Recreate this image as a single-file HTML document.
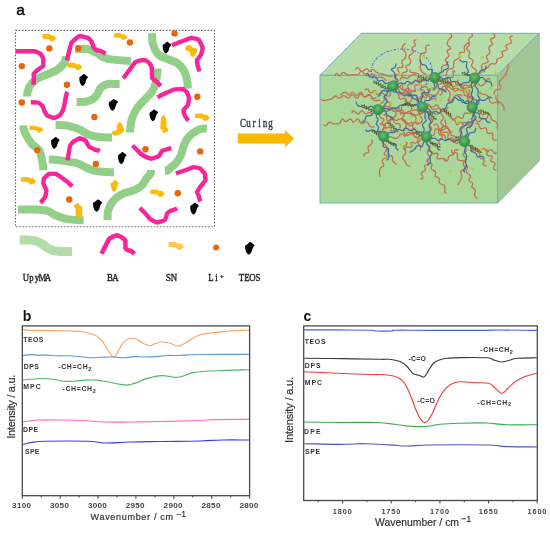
<!DOCTYPE html>
<html><head><meta charset="utf-8"><title>Figure</title><style>
html,body{margin:0;padding:0;background:#fff;}
svg{display:block;}
text{font-family:"Liberation Sans",sans-serif;}
.lab{font-size:15.5px;fill:#111;stroke:#111;stroke-width:0.55px;}
.labb{font-size:14px;font-weight:bold;fill:#111;}
.cur{font-family:"Liberation Serif",serif;font-size:11.5px;fill:#354055;stroke:#354055;stroke-width:0.45px;}
.leg{font-family:"Liberation Serif",serif;font-size:11.3px;fill:#222;stroke:#222;stroke-width:0.4px;}
.pl{font-size:6.9px;font-weight:bold;fill:#333;}
.tk{font-size:8.1px;font-weight:bold;fill:#444;letter-spacing:0.3px;}
.tkc{font-size:7.3px;font-weight:bold;fill:#444;letter-spacing:0.9px;}
.ax{font-size:9px;fill:#333;stroke:#333;stroke-width:0.2px;}
.ax2{font-size:11px;fill:#333;stroke:#333;stroke-width:0.2px;}
.yl{font-size:11px;fill:#333;stroke:#333;stroke-width:0.2px;}
</style></head>
<body><svg width="550" height="533" viewBox="0 0 550 533">
<rect width="550" height="533" fill="#fff"/>
<g id="pa">
<rect x="15.5" y="30.4" width="199" height="196.3" fill="none" stroke="#6a6a6a" stroke-width="1.1" stroke-dasharray="1.6 1.6"/>
<path d="M65.6 56.3 C65.6 56.8 65.9 58.1 65.6 59.3 C65.3 60.5 65.2 61.7 63.8 63.5 C62.4 65.3 59.9 68.2 57 70 C54.1 71.8 50 73 46.5 74.6 C43 76.2 38.8 77.5 36 79.4 C33.2 81.3 31.2 83.7 29.8 86 C28.4 88.3 27.7 91.8 27.3 93.5 C26.9 95.2 27.3 96 27.3 96.5" fill="none" stroke="#92cf88" stroke-width="8" stroke-linecap="butt" stroke-linejoin="round"/>
<path d="M75.2 49 C75.7 49 76.1 49 78.2 49 C80.3 49 84.8 48.5 87.9 49.2 C91 49.9 94.4 51.6 97 53 C99.6 54.4 101 56.4 103.6 57.5 C106.2 58.6 108.8 59.1 112.8 59.6 C116.8 60.1 124.8 60.6 127.8 60.8 C130.8 61 130.3 60.8 130.8 60.8" fill="none" stroke="#92cf88" stroke-width="8" stroke-linecap="butt" stroke-linejoin="round"/>
<path d="M119.6 84 C119.1 84 118.5 84 116.6 84 C114.7 84 110.6 83.4 108 84 C105.4 84.6 102.8 85.8 101 87.5 C99.2 89.2 98.8 92.1 97.5 94 C96.2 95.9 94.9 97.7 93 99 C91.1 100.3 88.2 101.1 86 101.6 C83.8 102.1 81.2 101.9 79.6 101.9 C78 102 77.1 101.9 76.6 101.9" fill="none" stroke="#92cf88" stroke-width="8" stroke-linecap="butt" stroke-linejoin="round"/>
<path d="M152.2 33.2 C152.2 33.7 152.1 34.4 152.2 36.2 C152.3 38 151.9 40.8 152.9 43.8 C153.9 46.8 155.5 51.7 158.1 54.3 C160.7 56.9 165.3 58 168.6 59.5 C171.9 61 175.2 61.5 177.8 63.5 C180.4 65.5 182.9 68.5 184.4 71.3 C185.9 74.1 186.4 78.1 187 80.5 C187.6 82.9 187.6 84.2 187.7 85.6 C187.8 86.9 187.7 88.1 187.7 88.6" fill="none" stroke="#92cf88" stroke-width="8" stroke-linecap="butt" stroke-linejoin="round"/>
<path d="M157.5 68.5 C157.5 69 157.7 69.8 157.5 71.5 C157.3 73.2 157.1 76.2 156.5 79 C155.9 81.8 155.1 85.4 154 88 C152.9 90.6 151.6 92.2 149.7 94.5 C147.8 96.8 144.7 99.4 142.5 101.8 C140.3 104.2 138.4 106.1 136.6 109 C134.8 111.9 132.9 115.6 131.8 119 C130.7 122.4 130.5 127.3 130.2 129.6 C129.9 131.9 130.2 132.1 130.2 132.6" fill="none" stroke="#92cf88" stroke-width="8" stroke-linecap="butt" stroke-linejoin="round"/>
<path d="M55.5 125 C56 125 56.1 124.8 58.5 125 C60.9 125.2 66.4 125.5 70 126.3 C73.6 127.1 77.3 128.4 80 129.6 C82.7 130.8 83.8 132.2 86 133.3 C88.2 134.4 90 135.3 93 136 C96 136.7 101.3 136.9 104 137.2 C106.7 137.5 107.7 137.5 109 137.6 C110.3 137.7 111.5 137.6 112 137.6" fill="none" stroke="#92cf88" stroke-width="8" stroke-linecap="butt" stroke-linejoin="round"/>
<path d="M23.5 125.6 C23.5 126.1 22.9 126.8 23.5 128.6 C24.1 130.4 25.4 133.7 26.8 136.3 C28.2 138.9 30 141.8 32.1 144.2 C34.2 146.6 37.8 147.9 39.5 151 C41.2 154.1 42 160.3 42.6 163 C43.2 165.7 43.1 166.1 43.2 167.3 C43.3 168.5 43.2 169.8 43.2 170.3" fill="none" stroke="#92cf88" stroke-width="8" stroke-linecap="butt" stroke-linejoin="round"/>
<path d="M48.8 159.6 C49.3 159.6 49.1 159.4 51.8 159.6 C54.5 159.8 60.6 160.3 65 161 C69.4 161.7 74.7 162.5 78 163.5 C81.3 164.5 82.5 165.9 85 167 C87.5 168.1 90 169.5 93 170.3 C96 171.1 100 171.5 103 171.8 C106 172.1 109.2 172.1 111 172.2 C112.8 172.3 113.5 172.2 114 172.2" fill="none" stroke="#92cf88" stroke-width="8" stroke-linecap="butt" stroke-linejoin="round"/>
<path d="M206.9 128.5 C206.4 128.5 205.5 128.2 203.9 128.5 C202.3 128.8 200 129 197.5 130.3 C195 131.6 191.2 134.1 189 136.5 C186.8 138.9 185.3 141.9 184 145 C182.7 148.1 182.3 152 181 155 C179.7 158 177.8 160.8 176 163 C174.2 165.2 171.4 166.8 170 168 C168.6 169.2 168.7 170.1 167.8 170.5 C166.9 170.9 165.3 170.5 164.8 170.5" fill="none" stroke="#92cf88" stroke-width="8" stroke-linecap="butt" stroke-linejoin="round"/>
<path d="M18 209.6 C18.5 209.6 18.2 209.6 21 209.6 C23.8 209.6 30.2 209.3 34.7 209.5 C39.2 209.7 44.5 210.1 47.8 211 C51.1 211.9 51.1 213.3 54.4 214.7 C57.7 216.1 63.1 218.3 67.5 219.2 C71.9 220.1 77.9 220 80.6 220.2 C83.3 220.4 83.1 220.2 83.6 220.2" fill="none" stroke="#92cf88" stroke-width="8" stroke-linecap="butt" stroke-linejoin="round"/>
<path d="M107.6 219.9 C107.6 219.4 107.5 218.5 107.6 216.9 C107.7 215.3 107.3 213.1 108.2 210.5 C109.1 207.9 110.5 204 112.8 201.3 C115.1 198.6 118.7 195.8 122 194.1 C125.3 192.3 129.2 192.2 132.5 190.8 C135.8 189.4 139.3 187.8 141.7 185.6 C144.1 183.4 145.4 179.8 147 177.7 C148.6 175.6 150.3 174.3 151 173 C151.7 171.7 151 170.5 151 170" fill="none" stroke="#92cf88" stroke-width="8" stroke-linecap="butt" stroke-linejoin="round"/>
<path d="M42.6 34.3 C42.8 33.8 42.8 33.9 43.7 33.9 C44.5 33.9 48.3 33.9 49.2 34.1 C50.2 34.3 50.5 35.2 51 35.4 C51.5 35.5 52.4 34.8 53.1 35.2 C53.8 35.5 55.6 37.5 55.9 38 C56.2 38.6 55.6 39.2 55.2 39.6 C54.8 40.1 53.3 41.2 52.7 41.4 C52.1 41.6 51.1 41.7 50.6 41.4 C50.1 41.1 49.8 39.7 48.9 39.3 C47.9 39 44.1 38.9 43.3 38.7 C42.4 38.5 42.5 38.4 42.4 37.8 C42.3 37.3 42.4 34.8 42.6 34.3Z" fill="#fcbb08"/>
<path d="M67.7 63.2 C67.9 62.7 67.9 62.8 68.8 62.8 C69.8 62.8 73.8 62.8 74.9 63 C75.9 63.2 76.2 64.1 76.7 64.2 C77.3 64.4 78.3 63.7 79 64 C79.7 64.4 81.7 66.2 82 66.8 C82.3 67.3 81.7 67.9 81.3 68.3 C80.8 68.7 79.2 69.8 78.6 70 C77.9 70.2 76.9 70.3 76.3 70 C75.8 69.7 75.5 68.4 74.4 68 C73.4 67.7 69.4 67.6 68.4 67.4 C67.5 67.3 67.6 67.2 67.5 66.6 C67.4 66 67.5 63.7 67.7 63.2Z" fill="#fcbb08"/>
<path d="M114.3 33.6 C114.5 33.2 114.5 33.3 115.3 33.3 C116.2 33.3 119.8 33.3 120.8 33.5 C121.7 33.6 122 34.5 122.5 34.6 C123 34.7 123.9 34.1 124.6 34.4 C125.2 34.7 127 36.4 127.3 36.9 C127.6 37.4 127.1 37.9 126.6 38.3 C126.2 38.6 124.8 39.6 124.2 39.8 C123.6 40 122.6 40 122.1 39.8 C121.6 39.6 121.4 38.3 120.4 38 C119.5 37.7 115.8 37.7 114.9 37.5 C114.1 37.3 114.2 37.2 114.1 36.7 C114 36.2 114.1 34.1 114.3 33.6Z" fill="#fcbb08"/>
<path d="M29.6 126.1 C29.8 125.7 29.8 125.8 30.7 125.8 C31.6 125.8 35.4 125.8 36.4 126 C37.4 126.1 37.6 127 38.2 127.1 C38.7 127.2 39.7 126.6 40.3 126.9 C41 127.2 42.9 128.9 43.2 129.4 C43.5 130 42.9 130.4 42.5 130.8 C42.1 131.2 40.6 132.2 39.9 132.4 C39.3 132.6 38.3 132.6 37.8 132.4 C37.3 132.2 37 130.9 36 130.6 C35 130.3 31.2 130.2 30.3 130.1 C29.4 129.9 29.5 129.8 29.4 129.3 C29.3 128.8 29.4 126.6 29.6 126.1Z" fill="#fcbb08"/>
<path d="M195.1 113.8 C195.3 113.3 195.3 113.4 196.2 113.4 C197.2 113.4 201.2 113.4 202.3 113.6 C203.3 113.8 203.6 114.7 204.1 114.8 C204.7 115 205.7 114.3 206.4 114.6 C207.1 115 209.1 116.8 209.4 117.4 C209.7 117.9 209.1 118.5 208.7 118.9 C208.2 119.3 206.6 120.4 206 120.6 C205.3 120.8 204.3 120.9 203.7 120.6 C203.2 120.3 202.9 119 201.8 118.6 C200.8 118.3 196.8 118.2 195.8 118 C194.9 117.9 195 117.8 194.9 117.2 C194.8 116.6 194.9 114.3 195.1 113.8Z" fill="#fcbb08"/>
<path d="M21.1 177.4 C21.3 176.9 21.3 177 22.3 177 C23.3 177 27.5 177 28.6 177.2 C29.7 177.4 29.9 178.3 30.5 178.4 C31.1 178.6 32.1 177.9 32.9 178.2 C33.6 178.6 35.7 180.5 36 181 C36.3 181.6 35.7 182.1 35.2 182.6 C34.8 183 33.1 184.1 32.4 184.3 C31.8 184.5 30.6 184.6 30.1 184.3 C29.5 184 29.2 182.6 28.1 182.3 C27 181.9 22.8 181.9 21.9 181.7 C20.9 181.5 21 181.4 20.9 180.8 C20.8 180.3 20.9 177.9 21.1 177.4Z" fill="#fcbb08"/>
<path d="M150.5 189.9 C150.7 189.4 150.7 189.5 151.6 189.5 C152.6 189.5 156.6 189.5 157.6 189.7 C158.6 189.9 158.9 190.8 159.5 190.9 C160 191.1 161 190.4 161.7 190.7 C162.4 191.1 164.4 192.9 164.7 193.5 C165 194 164.4 194.6 164 195 C163.5 195.4 162 196.5 161.3 196.7 C160.6 196.9 159.6 197 159 196.7 C158.5 196.4 158.2 195.1 157.2 194.7 C156.1 194.4 152.1 194.3 151.2 194.1 C150.3 194 150.4 193.9 150.3 193.3 C150.2 192.7 150.3 190.4 150.5 189.9Z" fill="#fcbb08"/>
<path d="M111.6 132.3 C111.8 131.9 113 131.1 113.6 130.8 C114.2 130.5 115.8 130.7 116.3 130 C116.8 129.3 116.6 126.6 117 125.5 C117.4 124.4 118.7 122.4 119.3 122.1 C119.9 121.8 121 122.9 121.5 123.6 C122 124.3 123.1 126.4 123.4 127.4 C123.7 128.4 124.2 130.4 124.1 131.1 C124 131.8 122.9 132.5 122.3 133 C121.7 133.5 120 134.2 119.3 134.5 C118.6 134.8 118.1 135.5 117.4 135.6 C116.7 135.7 114.7 135.8 114 135.6 C113.3 135.4 112.4 134.2 112.1 133.8 C111.8 133.4 111.4 132.7 111.6 132.3Z" fill="#fcbb08"/>
<path d="M163.5 114.9 C164.1 114.9 165.4 117.1 165.8 118 C166.2 118.9 166.4 120.4 166.5 121.7 C166.6 123 166.5 126.4 166.7 127.4 C166.9 128.4 168 128.6 168.1 129.2 C168.2 129.8 168.3 131.1 167.7 131.6 C167.1 132.1 164.6 132.9 163.9 133 C163.2 133.1 162.8 132.6 162.5 132.1 C162.2 131.6 162.3 129.6 162 129.2 C161.7 128.8 160.4 129.5 160.2 128.8 C160 128.1 160.5 125.5 160.6 124.1 C160.7 122.7 160.7 119.2 161.1 118 C161.5 116.8 162.9 114.9 163.5 114.9Z" fill="#fcbb08"/>
<path d="M185.2 48.2 C185.4 47.5 186.5 45.6 187.3 45.2 C188.1 44.8 190.1 45.2 190.9 45.5 C191.7 45.8 192.4 47.2 193.2 47.7 C194 48.2 196.3 48.5 196.8 48.9 C197.3 49.3 197.5 50.1 197.3 50.9 C197.1 51.7 195.6 54.2 195 55 C194.4 55.8 193.3 56.9 192.7 57 C192.1 57.1 190.9 56.2 190.5 55.5 C190.1 54.8 190.1 52.5 189.5 51.8 C188.9 51.1 186.5 51 185.9 50.5 C185.3 50 185 48.9 185.2 48.2Z" fill="#fcbb08"/>
<path d="M110.3 183.6 C110.5 183 112 182.9 112.5 182.5 C113 182.1 113.9 180.6 114.4 180.3 C114.9 180 115.8 180.3 116.3 180.6 C116.8 180.9 117.4 182.1 117.8 182.5 C118.2 182.9 119.1 183.1 119.1 183.4 C119.1 183.7 118.1 184.3 117.8 184.8 C117.5 185.3 117.3 186.6 117 187.4 C116.7 188.2 116.3 190.2 115.9 190.8 C115.5 191.4 114.5 192 114 191.9 C113.5 191.8 112.5 190.7 112.1 190 C111.7 189.3 111.2 187.9 111 187 C110.8 186.1 110.1 184.2 110.3 183.6Z" fill="#fcbb08"/>
<path d="M73.7 205.7 C74 205.2 75.7 203.7 76.3 203.4 C76.9 203.1 78 202.9 78.5 203.2 C79 203.5 79.4 204.9 79.9 205.4 C80.4 205.9 81.6 205.3 81.9 206.8 C82.2 208.3 82.6 215.1 81.9 216.4 C81.2 217.7 77.2 217.8 76.3 216.7 C75.4 215.6 75.7 209.8 75.4 208.5 C75.1 207.2 74.2 207.5 74 207.1 C73.8 206.7 73.4 206.2 73.7 205.7Z" fill="#fcbb08"/>
<path d="M79.4 77.6 C79.6 77 81.3 76.2 81.7 75.8 C82.1 75.4 83.3 74.1 83.7 74 C84.1 73.9 85.1 74.6 85.5 74.9 C85.9 75.2 87.9 76.8 88 77.2 C88.1 77.6 87.1 78.2 86.9 78.5 C86.7 78.8 86.2 79.9 86 80.4 C85.8 80.9 85.4 82.9 85.1 83.5 C84.8 84.1 83.2 85.9 82.8 86 C82.4 86.1 81.1 84.9 80.8 84.4 C80.5 83.9 79.7 82 79.6 81.3 C79.5 80.6 79.2 78.1 79.4 77.6Z" fill="#000"/>
<path d="M162.7 45.3 C162.9 44.8 164.6 43.9 165 43.6 C165.4 43.2 166.6 41.9 167 41.8 C167.4 41.7 168.4 42.4 168.8 42.7 C169.2 43 171.2 44.6 171.3 44.9 C171.4 45.3 170.4 45.9 170.2 46.2 C170 46.5 169.5 47.6 169.3 48.1 C169.1 48.6 168.7 50.6 168.4 51.1 C168.1 51.7 166.5 53.5 166.1 53.6 C165.7 53.7 164.4 52.5 164.1 52 C163.8 51.6 163 49.6 162.9 49 C162.8 48.3 162.5 45.9 162.7 45.3Z" fill="#000"/>
<path d="M51.1 140.5 C51.3 140 53 139.1 53.4 138.8 C53.8 138.4 55 137.1 55.4 137 C55.8 136.9 56.8 137.6 57.2 137.9 C57.6 138.2 59.6 139.8 59.7 140.1 C59.8 140.5 58.8 141.1 58.6 141.4 C58.4 141.7 57.9 142.8 57.7 143.3 C57.5 143.8 57.1 145.8 56.8 146.3 C56.5 146.9 54.9 148.7 54.5 148.8 C54.1 148.9 52.8 147.7 52.5 147.2 C52.2 146.8 51.4 144.8 51.3 144.2 C51.2 143.5 50.9 141.1 51.1 140.5Z" fill="#000"/>
<path d="M108.9 102.4 C109.1 101.9 110.9 101 111.4 100.7 C111.8 100.3 113.1 99 113.5 98.9 C113.9 98.8 115 99.5 115.4 99.8 C115.9 100.1 118 101.7 118.1 102 C118.2 102.4 117.1 103 116.9 103.3 C116.7 103.6 116.2 104.7 116 105.2 C115.8 105.7 115.3 107.7 115 108.2 C114.7 108.8 113 110.6 112.5 110.7 C112.1 110.8 110.7 109.6 110.4 109.1 C110.1 108.7 109.3 106.7 109.1 106.1 C109 105.4 108.7 103 108.9 102.4Z" fill="#000"/>
<path d="M118 155.6 C118.2 155 119.9 154.2 120.3 153.8 C120.7 153.4 121.9 152.1 122.3 152 C122.7 151.9 123.7 152.6 124.1 152.9 C124.5 153.2 126.5 154.8 126.6 155.2 C126.7 155.6 125.7 156.2 125.5 156.5 C125.3 156.8 124.8 157.9 124.6 158.4 C124.4 158.9 124 160.9 123.7 161.5 C123.4 162.1 121.8 163.9 121.4 164 C121 164.1 119.7 162.9 119.4 162.4 C119.1 161.9 118.3 160 118.2 159.3 C118.1 158.6 117.8 156.2 118 155.6Z" fill="#000"/>
<path d="M149.6 112.9 C149.8 112.4 151.4 111.5 151.9 111.2 C152.3 110.8 153.5 109.5 153.8 109.4 C154.2 109.3 155.2 110 155.6 110.3 C156.1 110.6 158 112.2 158.1 112.5 C158.2 112.9 157.2 113.5 157 113.8 C156.8 114.1 156.3 115.2 156.1 115.7 C155.9 116.2 155.5 118.2 155.2 118.7 C154.9 119.3 153.4 121.1 153 121.2 C152.5 121.3 151.3 120.1 151 119.6 C150.7 119.2 149.9 117.2 149.8 116.6 C149.7 115.9 149.4 113.5 149.6 112.9Z" fill="#000"/>
<path d="M93.1 203.1 C93.3 202.6 95.1 201.6 95.6 201.3 C96 200.9 97.3 199.5 97.7 199.4 C98.1 199.3 99.2 200 99.6 200.3 C100.1 200.7 102.2 202.3 102.3 202.7 C102.4 203.1 101.3 203.7 101.1 204.1 C100.9 204.4 100.4 205.5 100.2 206 C100 206.5 99.5 208.6 99.2 209.2 C98.9 209.8 97.2 211.7 96.7 211.8 C96.3 211.9 94.9 210.6 94.6 210.1 C94.3 209.7 93.5 207.6 93.3 206.9 C93.2 206.2 92.9 203.7 93.1 203.1Z" fill="#000"/>
<path d="M190.3 206.2 C190.5 205.7 192.1 204.8 192.6 204.5 C193 204.1 194.2 202.8 194.6 202.7 C194.9 202.6 195.9 203.3 196.3 203.6 C196.8 203.9 198.7 205.5 198.8 205.8 C198.9 206.2 197.9 206.8 197.7 207.1 C197.5 207.4 197 208.5 196.8 209 C196.6 209.5 196.2 211.5 195.9 212 C195.6 212.6 194.1 214.4 193.7 214.5 C193.2 214.6 192 213.4 191.7 212.9 C191.4 212.5 190.6 210.5 190.5 209.9 C190.4 209.2 190.1 206.8 190.3 206.2Z" fill="#000"/>
<path d="M15.5 51.3 C16.3 51.3 33.7 51.2 34.7 51.3 C35.7 51.4 40.2 53.7 40.5 54 C40.8 54.3 43.1 58 43.2 58.5 C43.3 59 43.4 65.5 43.2 66 C43 66.5 37.9 69.7 37.5 70 C37.1 70.3 33.7 73.7 33.6 74 C33.5 74.3 34 77.6 34 78 C34 78.4 33.5 84.5 33.5 84.8" fill="none" stroke="#f7259a" stroke-width="4.4" stroke-linecap="butt" stroke-linejoin="round"/>
<path d="M66.9 60.5 C67.1 59.8 70.9 43.9 71.3 43 C71.7 42.1 76.2 38.3 76.5 38 C76.8 37.7 79.5 36 80 36 C80.5 36 87.4 37.7 87.9 37.9 C88.4 38.1 91.3 40.9 91.5 41.3 C91.7 41.7 93.4 47.1 93.6 47.5 C93.8 47.9 96.8 50.2 97.1 50.3 C97.4 50.4 100.7 50.9 101 51 C101.3 51.1 105.4 53.7 105.6 53.8" fill="none" stroke="#f7259a" stroke-width="4.4" stroke-linecap="butt" stroke-linejoin="round"/>
<path d="M67.2 91.8 C67.1 92 65.6 97.6 65.5 98 C65.4 98.4 65 101.7 64.9 102.2 C64.8 102.7 63.2 109.6 63 110.1 C62.8 110.6 60 115 59.7 115.3 C59.4 115.6 54.9 118 54.4 118 C53.9 118 48.2 116.3 47.8 116 C47.4 115.7 44.8 111.8 44.6 111.4 C44.4 111 42.8 106.4 42.6 106.1 C42.4 105.8 39.1 103 38.6 102.8 C38.1 102.6 31.1 102.2 30.8 102.2" fill="none" stroke="#f7259a" stroke-width="4.4" stroke-linecap="butt" stroke-linejoin="round"/>
<path d="M123.3 78.3 C123.8 77.7 134.5 63 135.2 62.3 C135.9 61.6 141.3 60.3 141.7 60.2 C142.1 60.1 145.7 60.3 146 60.5 C146.3 60.7 149.8 63.7 150 64 C150.2 64.3 151.7 67.4 151.8 68 C151.9 68.6 152 77.4 152.2 78 C152.4 78.6 156.5 81.5 156.8 81.8 C157.1 82.1 160.6 85.8 160.8 86" fill="none" stroke="#f7259a" stroke-width="4.4" stroke-linecap="butt" stroke-linejoin="round"/>
<path d="M171.9 45.3 C172.7 45 189.9 38.1 191 37.9 C192.1 37.7 198.3 39.4 198.8 39.8 C199.3 40.2 202.5 47.1 202.6 47.7 C202.7 48.3 201.5 53.8 201.3 54.3 C201.1 54.8 197.1 59.8 196.9 60.2 C196.7 60.6 197.4 64.3 197.5 64.8 C197.6 65.3 199.4 71.2 199.5 71.5" fill="none" stroke="#f7259a" stroke-width="4.4" stroke-linecap="butt" stroke-linejoin="round"/>
<path d="M157.5 97.3 C157.8 97.1 165.3 93.3 166 93 C166.7 92.7 173.3 89.7 174 89.5 C174.7 89.3 182.5 88.9 183 89 C183.5 89.1 186.8 92.1 187 92.5 C187.2 92.9 189 97.5 189 98 C189 98.5 188.2 104.5 188 105 C187.8 105.5 183.6 109.6 183.5 110 C183.4 110.4 184.3 114.6 184.5 115 C184.7 115.4 188.3 120.6 188.5 120.8" fill="none" stroke="#f7259a" stroke-width="4.4" stroke-linecap="butt" stroke-linejoin="round"/>
<path d="M67.5 160.3 C67.6 159.7 70 146.2 70.2 145.5 C70.4 144.8 73 141.9 73.4 141.6 C73.8 141.3 78.9 138.4 79.4 138.3 C79.9 138.2 84.9 140 85.3 140.3 C85.7 140.6 88.8 146.4 89.2 146.8 C89.6 147.2 94 149.3 94.4 149.5 C94.8 149.7 99.7 150.9 99.9 151" fill="none" stroke="#f7259a" stroke-width="4.4" stroke-linecap="butt" stroke-linejoin="round"/>
<path d="M132.5 145.5 C132.8 145.8 139.9 152.9 140.4 153.4 C140.9 153.9 145.6 156.8 146 157 C146.4 157.2 151.1 158.7 151.6 158.7 C152.1 158.7 158.6 156.3 159 156 C159.4 155.7 161.5 151.3 162 151 C162.5 150.7 170.9 148.3 171.3 148.2" fill="none" stroke="#f7259a" stroke-width="4.4" stroke-linecap="butt" stroke-linejoin="round"/>
<path d="M40.6 202.9 C40.8 202.7 45 197.2 45.2 196.7 C45.4 196.2 46.6 191.3 46.5 190.8 C46.4 190.3 43.5 184.1 43.4 183.6 C43.3 183.1 43.7 178.8 43.9 178.4 C44.1 178 48.6 174 49.1 173.8 C49.6 173.6 55.1 173.6 55.7 173.8 C56.3 174 62.9 178.5 63.6 179 C64.3 179.5 72 186.1 72.3 186.4" fill="none" stroke="#f7259a" stroke-width="4.4" stroke-linecap="butt" stroke-linejoin="round"/>
<path d="M139.8 207.9 C140 208.1 144.6 212.6 145 213 C145.4 213.4 149.5 218.6 150 219 C150.5 219.4 156.4 222.5 157 222.5 C157.6 222.5 164.6 220.4 165 220 C165.4 219.6 166.7 213.9 167 213.5 C167.3 213.1 171.1 210.7 171.5 210.5 C171.9 210.3 177 208.6 177.2 208.5" fill="none" stroke="#f7259a" stroke-width="4.4" stroke-linecap="butt" stroke-linejoin="round"/>
<path d="M175.9 173.3 C176.2 173.2 183.7 170.7 184.4 170.5 C185.1 170.3 193 167.3 193.6 167.2 C194.2 167.1 199.8 168.2 200.2 168.5 C200.6 168.8 204.6 173.3 204.8 173.8 C205 174.3 205.6 179.8 205.4 180.3 C205.2 180.8 200.5 186.4 200.2 186.9 C199.9 187.4 197 191.7 196.9 192.1 C196.8 192.5 198.7 195.7 198.8 196.1 C198.9 196.5 200.1 201.3 200.2 201.5" fill="none" stroke="#f7259a" stroke-width="4.4" stroke-linecap="butt" stroke-linejoin="round"/>
<circle cx="49.4" cy="48.4" r="3.2" fill="#e8650c"/>
<circle cx="21.8" cy="66.1" r="3.2" fill="#e8650c"/>
<circle cx="66.9" cy="84.7" r="3.2" fill="#e8650c"/>
<circle cx="78.4" cy="48.4" r="3.2" fill="#e8650c"/>
<circle cx="129.9" cy="42.4" r="3.2" fill="#e8650c"/>
<circle cx="174.5" cy="33.4" r="3.2" fill="#e8650c"/>
<circle cx="197.3" cy="96.8" r="3.2" fill="#e8650c"/>
<circle cx="21.8" cy="102.5" r="3.2" fill="#e8650c"/>
<circle cx="37.3" cy="150.1" r="3.2" fill="#e8650c"/>
<circle cx="94.4" cy="117" r="3.2" fill="#e8650c"/>
<circle cx="145.5" cy="149.3" r="3.2" fill="#e8650c"/>
<circle cx="95.8" cy="163.9" r="3.2" fill="#e8650c"/>
<circle cx="200.2" cy="151.4" r="3.2" fill="#e8650c"/>
<circle cx="69.2" cy="199.5" r="3.2" fill="#e8650c"/>
<circle cx="177.8" cy="193.2" r="3.2" fill="#e8650c"/>
<path d="M19.7 240 C20.8 240 23.8 239.9 26 240 C28.2 240.1 31 240.1 33 240.4 C35 240.7 36.3 241.1 38 241.8 C39.7 242.5 41.3 243.5 43 244.6 C44.7 245.7 46.3 247.3 48 248.3 C49.7 249.3 51 250.1 53 250.6 C55 251.1 57.5 251.2 60 251.4 C62.5 251.6 66 251.6 68 251.6 C70 251.6 71.3 251.6 72 251.6" fill="none" stroke="#b4dcab" stroke-width="9" stroke-linecap="butt"/>
<path d="M101.5 253.8 C102 252.8 108.6 239.9 109.3 238.8 C110 237.7 111.7 237.2 112.2 237 C112.7 236.8 116.1 235.4 116.7 235.4 C117.3 235.4 120.6 236.7 121.2 237 C121.8 237.3 125 239.8 125.3 240.5 C125.6 241.2 125.3 247.3 125.5 248 C125.7 248.7 127.6 250.1 128 250.3 C128.4 250.5 130.6 250.5 131 250.7 C131.4 250.9 134.3 253.8 134.5 254" fill="none" stroke="#f7259a" stroke-width="4.6" stroke-linecap="butt" stroke-linejoin="round"/>
<path d="M168.6 242.4 C168.8 241.9 168.8 242 169.8 242 C170.8 242 175.1 242 176.2 242.2 C177.3 242.4 177.5 243.4 178.1 243.5 C178.7 243.7 179.8 243 180.5 243.3 C181.3 243.7 183.4 245.7 183.7 246.3 C184 246.9 183.4 247.5 182.9 248 C182.5 248.4 180.8 249.6 180.1 249.8 C179.4 250 178.3 250.1 177.7 249.8 C177.1 249.5 176.8 248 175.7 247.6 C174.6 247.3 170.4 247.2 169.4 247 C168.4 246.8 168.5 246.7 168.4 246.1 C168.3 245.5 168.4 243 168.6 242.4Z" fill="#fcc94e"/>
<circle cx="216.1" cy="247.5" r="2.9" fill="#e8650c"/>
<path d="M245.2 245.8 C245.4 245.2 247.3 244.3 247.7 243.9 C248.2 243.5 249.5 242.1 249.9 242 C250.4 241.9 251.5 242.6 251.9 242.9 C252.4 243.3 254.5 245 254.7 245.4 C254.9 245.7 253.7 246.4 253.5 246.7 C253.3 247.1 252.7 248.2 252.5 248.7 C252.3 249.2 251.8 251.4 251.5 252 C251.1 252.6 249.4 254.5 249 254.6 C248.5 254.7 247.1 253.4 246.7 252.9 C246.4 252.4 245.6 250.4 245.4 249.7 C245.3 249 245 246.4 245.2 245.8Z" fill="#000"/>
</g>
<path d="M237.7 133.6 H285 V130 L294.2 138.6 L285 147.6 V143.6 H237.7Z" fill="#fbb800"/>
<g id="cube">
<path d="M320 75.3 L361.3 33.3 L539.2 33.3 L497.6 75.3Z" fill="#b6dcaa" stroke="#7aabb8" stroke-width="1"/>
<path d="M497.6 75.3 L539.2 33.3 L539.2 161 L497.6 203Z" fill="#a2c595" stroke="#7aabb8" stroke-width="1"/>
<rect x="320" y="75.3" width="177.6" height="127.7" fill="#aad89c" stroke="#7aabb8" stroke-width="1"/>
</g>
<defs><radialGradient id="ng" cx="0.45" cy="0.4" r="0.65"><stop offset="0" stop-color="#6cbb72"/><stop offset="0.6" stop-color="#3d9a4e"/><stop offset="1" stop-color="#2f8442" stop-opacity="0.85"/></radialGradient><clipPath id="cc"><path d="M320 75.3 L361.3 33.3 L539.2 33.3 L539.2 161 L497.6 203 L320 203Z"/></clipPath><filter id="sb" x="-5%" y="-5%" width="110%" height="110%"><feGaussianBlur stdDeviation="0.35"/></filter></defs><g clip-path="url(#cc)"><g filter="url(#sb)"><ellipse cx="401.8" cy="71" rx="30.5" ry="22" fill="none" stroke="#4c6fe6" stroke-width="1.1" stroke-dasharray="2.6 1.6 1 1.6"/><g fill="none" stroke="#c2714f" stroke-width="1.3" stroke-linejoin="round" stroke-linecap="round"><path d="M405 43.5 C404.5 44.1 403.6 44.4 403 45.8 C402.4 47.3 402 47 402.7 49 C403.4 51 405.1 50.8 405.7 53.2 C406.4 55.7 406.1 56 405.1 58.1 C404 60.3 402.4 59 401.8 61.3 C401.2 63.7 403.9 65 402.8 66.9 C401.8 68.7 398.8 66.2 397.8 68.1 C396.9 70.1 400.2 72.2 399.3 74.2 C398.4 76.1 395.3 73.6 394.4 75.4 C393.6 77.2 396.3 79.5 396.2 81 C396.1 82.5 394.6 81 394 81"/><path d="M429.3 45 C428.4 45.4 426.9 44.6 426 46.5 C425 48.4 427.1 50 425.8 52.1 C424.6 54.1 422.7 52.4 421.1 54.2 C419.6 56 420.1 56.3 420 58.9 C419.9 61.5 420.8 61.6 420.8 64 C420.8 66.5 419.6 65.8 420.1 68 C420.6 70.3 420.9 70.9 422.5 72.5 C424.1 74.1 425.1 73.6 426 74"/><path d="M450.8 33.8 C451 34.6 452.2 35.1 451.6 36.7 C451 38.3 449.8 37.9 448.6 39.9 C447.5 42 446.9 42.2 447.4 44.4 C448 46.6 450.7 46.5 450.6 48.2 C450.5 50 447.6 48.8 447.1 50.9 C446.6 52.9 449.2 53.6 448.8 55.9 C448.4 58.2 446 57.4 445.5 59.6 C445.1 61.8 448.1 62.4 447.2 64.2 C446.3 66 443.7 64.2 442.2 66.3 C440.7 68.3 442.1 70.2 441.5 71.7 C441 73.3 440.4 71.9 440 72"/><path d="M469.5 42.8 C468.9 43 468.5 42.3 467.1 43.5 C465.8 44.8 465.1 45.2 464.3 47.4 C463.6 49.7 465.5 50.4 464.3 51.9 C463 53.3 461.1 51.4 459.8 52.9 C458.5 54.5 460.9 55.5 459.5 57.5 C458.1 59.6 456.1 58.9 454.6 60.6 C453 62.3 454.1 61.9 453.7 63.9 C453.3 65.9 454.3 66.8 453.1 68.2 C451.8 69.6 450.6 67.8 448.9 69 C447.2 70.1 447.5 70.7 446.7 72.5 C446 74.4 446.2 75.1 446 76"/><path d="M471.8 34 C472 34.5 473.1 34.6 472.4 35.9 C471.6 37.3 469.7 36.8 468.9 39 C468.1 41.3 469.9 41.8 469.3 44.4 C468.8 47 466.6 46.7 466.7 48.8 C466.8 50.9 469.2 50.1 469.8 52.4 C470.3 54.6 468 55 468.9 57.2 C469.8 59.4 472.3 58.2 473.1 60.6 C473.8 63 470.9 63.6 471.6 66.1 C472.4 68.6 474.8 68 475.9 69.8 C477.1 71.7 476 72.2 476 73"/><path d="M493.6 34 C493.8 34.8 495.4 35.6 494.5 37.1 C493.7 38.7 490.9 37.9 490.4 39.7 C489.9 41.5 493 41.8 492.6 43.9 C492.3 45.9 489.8 44.9 489 47.3 C488.2 49.6 490.4 50.1 489.8 52.6 C489.1 55.2 487 54.3 486.5 56.8 C486.1 59.2 489.1 59.8 488.1 61.8 C487.1 63.7 484.4 62.7 482.8 64.1 C481.1 65.6 482.1 65 481.8 67.2 C481.5 69.3 482.4 70.6 481.7 72.2 C480.9 73.7 479.7 72.8 479 73"/><path d="M512.7 36 C512 36.3 510.4 35.4 510 37.2 C509.5 39.1 512.1 40.8 511 43 C510 45.1 507.2 43.4 506.1 45.2 C505 47 508 47.9 506.9 49.7 C505.9 51.4 503.4 49.8 502.2 51.7 C501.1 53.5 503.8 54.7 502.5 56.7 C501.2 58.6 499.1 57.2 497.4 59 C495.6 60.8 497.7 62.1 496 63.4 C494.3 64.8 493 63 491 63.9 C488.9 64.7 489.9 65.2 488.4 66.7 C486.9 68.1 486.4 67.8 485.2 69.2 C484 70.7 484.3 71.3 484 72"/><path d="M508 64.5 C508 65.4 508.4 65.7 508 67.8 C507.6 69.8 507.2 70.2 506.5 72.3 C505.7 74.3 506.5 73.5 505.2 75.4 C503.8 77.3 503 77.3 501.4 79.3 C499.8 81.3 499.3 80.4 499.2 82.8 C499.1 85.2 501.9 86.3 500.9 88.3 C499.9 90.4 497.3 89 495.5 90.5 C493.7 92 494.4 93.1 494 94"/><path d="M416 40 C415.4 40.3 413.9 39.6 413.7 41.1 C413.6 42.6 415.7 43.7 415.3 45.5 C414.9 47.3 412.8 46.1 412.2 47.9 C411.6 49.7 414.1 50.1 413.2 52.4 C412.3 54.6 409.5 54.1 408.9 56.3 C408.2 58.4 410.6 58.2 410.7 60.4 C410.7 62.6 410.4 63 409.1 64.6 C407.9 66.2 406.4 64.7 405.8 66.5 C405.3 68.2 408 69.4 407.2 71.1 C406.3 72.9 404.2 71.2 402.8 73 C401.4 74.9 402.2 76.7 402 78"/><path d="M335 75.3 C335.5 74.8 335.5 73.2 336.9 73.3 C338.3 73.4 338.6 76.1 340.2 75.8 C341.9 75.5 340.9 72.4 342.9 72.3 C344.9 72.1 345.5 74.5 347.8 75.1 C350.1 75.7 349.7 74.6 351.5 74.6 C353.4 74.5 353 74.8 354.8 74.8 C356.6 74.8 356.5 75.4 358.3 74.5 C360.1 73.5 359.6 71.2 361.6 71.4 C363.5 71.6 363.7 74.1 365.7 75.2 C367.7 76.2 366.9 75.6 368.9 75.4 C371 75.1 371.5 73.5 373.3 74.2 C375.1 74.8 373.9 77 375.6 77.8 C377.2 78.6 377.3 77 379.5 77.2 C381.7 77.3 382 77.3 383.7 78.3 C385.4 79.4 385.4 80.3 386 81"/><path d="M355.5 69.3 C356.1 68.8 355.9 66.9 357.6 67.5 C359.3 68 359.3 70.9 361.8 71.3 C364.2 71.6 364.7 68.8 366.8 68.8 C368.9 68.9 368 71.5 369.6 71.6 C371.3 71.7 371.1 69.1 373 69.3 C374.8 69.5 374.6 71.2 376.5 72.4 C378.4 73.5 377.9 72.9 380 73.5 C382.1 74.1 382.2 73.9 384.2 74.5 C386.2 75.2 385.5 75.5 387.6 75.9 C389.7 76.3 390.8 76 392 76"/><path d="M321 99.3 C321.9 99.6 322.4 100.5 324.3 100.5 C326.2 100.6 326 100.1 328 99.6 C329.9 99.1 329.6 99.7 331.6 98.8 C333.7 97.8 333.6 96.2 335.6 96 C337.6 95.9 337 98.3 339.2 98.2 C341.4 98.1 341.5 95.7 344 95.7 C346.4 95.7 346.2 98.4 348.4 98.2 C350.6 98 350 94.9 352.4 94.9 C354.7 94.8 354.8 98.3 357.1 98.1 C359.3 97.9 358.8 94.3 360.8 93.9 C362.8 93.6 362.2 96.5 364.6 96.8 C367 97.2 367.7 94.9 369.7 95.2 C371.8 95.6 370.5 97.4 372.2 98.1 C373.8 98.9 375 98 376 98"/><path d="M340.5 94.8 C341 94.4 341.1 94.1 342.5 93.5 C343.9 92.8 344 91.9 345.8 92.3 C347.5 92.8 347.3 95.2 349 95.1 C350.8 95.1 350.4 92 352.4 92.1 C354.3 92.1 353.9 95.2 356.3 95.3 C358.7 95.3 359.3 91.8 361.4 92.3 C363.6 92.7 362.1 96.2 364.3 96.8 C366.5 97.4 367.2 93.8 369.5 94.5 C371.9 95.2 371.1 97.9 373.1 99.5 C375.2 101.1 375.4 100.4 377.3 100.5 C379.1 100.7 379.3 100.1 380 100"/><path d="M324 124.8 C324.6 125 324.8 126.1 326.2 125.4 C327.5 124.8 327.4 122.9 329.2 122.4 C330.9 121.9 330.9 123.3 332.7 123.6 C334.5 124 334 123.9 335.9 123.7 C337.8 123.6 338 124.4 339.7 123.1 C341.5 121.9 340.8 119.4 342.4 119 C344 118.6 343.7 121.7 345.8 121.7 C347.9 121.6 348.2 118.8 350.3 119 C352.4 119.1 351.6 122.1 353.6 122.2 C355.6 122.3 355.5 118.9 357.7 119.2 C359.8 119.6 359.1 122.7 361.6 123.5 C364 124.2 364.5 121.2 366.7 122 C369 122.7 368 124.9 370 126.3 C371.9 127.6 372.9 126.8 374 127"/><path d="M352 113 C352.4 112.4 351.8 110.5 353.5 110.8 C355.2 111 356.1 113.9 358.3 114 C360.5 114 359.7 110.8 361.7 110.8 C363.7 110.8 363.7 113.5 365.7 113.9 C367.7 114.3 367.7 112.2 369.3 112.3 C371 112.3 371.3 113.5 372 114"/><path d="M383.6 141 C383.2 141.5 381.7 141.9 382.3 143.1 C382.9 144.3 384.7 143.8 385.9 145.5 C387.2 147.2 387.4 147.4 386.9 149.5 C386.5 151.6 384.2 151.4 384.2 153.4 C384.2 155.5 387.5 155.3 387 157.1 C386.5 158.9 383.2 157.9 382.3 160.2 C381.4 162.5 384.2 163.5 383.7 165.6 C383.2 167.7 381.6 166.1 380.4 168 C379.3 169.9 379.5 170.7 379.4 172.9 C379.3 175.1 379.8 175.5 380 176.4"/><path d="M386 150 C386.6 150.2 387.6 149.5 388.2 150.9 C388.8 152.3 387.3 153.8 388.3 155.2 C389.3 156.7 390.9 154.8 392.1 156.3 C393.3 157.8 391.7 158.8 392.7 160.9 C393.8 162.9 395.1 163.2 396 164"/><path d="M372 140 C372 140.8 373 141.3 371.9 143.2 C370.9 145.1 369 144.8 368.1 147.1 C367.2 149.4 369.5 150 368.6 151.8 C367.6 153.5 365.8 152.6 364.6 153.7 C363.3 154.8 364.2 155.4 364 156"/><path d="M428 141 C427.7 141.8 426.5 142.2 427 143.9 C427.5 145.6 429.9 145 430 147.3 C430.1 149.5 427.5 149.6 427.4 152.3 C427.3 154.9 429.8 155.1 429.7 157.3 C429.6 159.5 427.4 158.7 427 160.6 C426.7 162.4 429 162.7 428.4 164.1 C427.8 165.5 425.5 164.3 424.7 165.8 C423.8 167.4 426.1 168.1 425.2 170 C424.4 171.9 422.2 170.7 421.6 172.8 C421 174.9 423.1 176.4 422.9 178 C422.6 179.6 421.2 178.6 420.6 178.8"/><path d="M428 160 C428 160.7 427.1 161.6 428.1 162.7 C429.2 163.8 431.1 162.5 431.9 164.1 C432.7 165.7 430.2 166.7 431.2 168.8 C432.2 170.8 434.5 169.7 435.6 171.7 C436.7 173.6 434.4 174.4 435.2 176.1 C436.1 177.8 437.8 176.3 438.9 178.1 C440.1 180 438.2 181.1 439.6 183 C440.9 184.9 442.6 183.8 444 185.2 C445.4 186.6 444.7 186.4 444.9 188.3 C445.1 190.3 444.6 191.4 444.9 192.6 C445.2 193.8 445.7 192.8 446 192.9"/><path d="M464.5 146 C464.7 146.5 464.9 146.7 465.4 148 C465.8 149.4 466.7 149.3 466.1 151.1 C465.4 152.9 463 152.7 463.1 154.7 C463.1 156.8 466.2 156.5 466.2 158.8 C466.3 161.1 463.6 160.6 463.3 163.3 C463 166 465.7 166.6 465.1 168.8 C464.5 171 461.8 169.5 460.9 171.6 C460.1 173.6 462.1 174.2 461.9 176.5 C461.7 178.8 461.2 178.2 460.3 180.3 C459.3 182.4 458.7 183.3 458.2 184.4"/><path d="M466 165 C466.4 165.5 467.4 165.1 467.5 167 C467.6 168.9 465.6 169.6 466.4 172 C467.1 174.3 469.5 173.6 470.3 175.8 C471 178.1 468.5 178.4 469.2 180.4 C469.8 182.4 472 181.6 472.7 183.4 C473.4 185.2 471.1 185.3 471.8 187.1 C472.5 188.8 474.6 188 475.3 190 C476.1 192.1 474.2 192.6 474.6 194.8 C475 197.1 476.4 197.5 477 198.5"/><path d="M470 146 C470.6 145.9 471.5 144.6 472.1 145.6 C472.8 146.7 471.1 148.3 472.5 149.9 C473.9 151.4 475.4 150.5 477.3 151.6 C479.2 152.6 478.9 152.2 479.6 153.8 C480.4 155.4 478.9 156 480.1 157.6 C481.3 159.3 483.3 158.3 484.1 159.9 C484.9 161.5 482.7 162.1 483.2 163.8 C483.7 165.4 485.3 165.4 486 166"/><path d="M406 142 C406.3 142.6 407.7 142.7 407.1 144.1 C406.5 145.6 404 145.2 403.7 147.4 C403.3 149.7 406.1 149.8 405.8 152.5 C405.5 155.3 402.7 155.5 402.6 157.7 C402.4 160 404 159.2 405.1 161 C406.2 162.9 405.3 163.3 406.6 164.6 C407.9 166 409.1 165.6 410 166"/><path d="M480 92 C480.2 92.5 479.3 93.1 480.7 93.7 C482.1 94.4 483.1 93.6 485.2 94.5 C487.3 95.4 487.1 94.9 488.6 97.1 C490.1 99.3 488.6 101.5 490.8 102.8 C493 104.2 494.9 101.7 496.9 102.1 C498.8 102.4 497.7 103.5 498 104"/><path d="M480 112 C480.7 112.8 480.7 114.6 482.6 114.9 C484.5 115.1 484.9 112.8 487 113 C489.1 113.3 489.2 114 490.5 115.8 C491.7 117.5 490.4 118 491.7 119.5 C493 121.1 493.8 120.1 495.3 121.4 C496.9 122.7 497 122.6 497.4 124.3 C497.9 126.1 497.1 127 497 128"/><path d="M476 124 C476.6 123.9 477.1 122.4 478.3 123.6 C479.5 124.8 478.7 127.4 480.7 128.6 C482.7 129.7 484 126.8 485.9 128 C487.7 129.2 485.9 131.7 487.6 133.1 C489.3 134.6 490.8 131.7 492.3 133.3 C493.7 134.9 492 137.4 493 139.2 C494 141 495.2 139.8 496 140"/><path d="M470 150 C470.6 150.4 470.9 151.9 472.3 151.5 C473.7 151.1 473.4 148.5 475.3 148.5 C477.1 148.6 476.9 151.9 479.2 151.8 C481.4 151.8 481.5 148.4 483.7 148.3 C485.8 148.2 485.2 151 487.2 151.4 C489.2 151.7 488.9 149 491 149.6 C493.1 150.3 493.7 153.1 495 153.7 C496.3 154.4 495.7 152.5 496 152"/><path d="M486 150 C486.4 150.2 487.2 149.3 487.6 150.7 C487.9 152.1 486 153.7 487.3 155.3 C488.6 156.8 491.4 155.1 492.3 156.5 C493.2 158 489.9 159.1 490.6 160.8 C491.3 162.6 494.1 161 494.9 163 C495.7 164.9 493.3 166.3 493.6 168.1 C493.9 170 495.4 169.5 496 170"/><path d="M496 96 C496.1 97.1 495.3 98.3 496.5 100.1 C497.6 101.9 498.5 101 500.4 102.7 C502.3 104.4 502.6 104.6 503.6 106.5 C504.5 108.5 503.9 109.1 504 110"/><path d="M392 90 C392.8 90.1 393.3 89.4 394.9 90.4 C396.5 91.4 396.8 91.6 398.1 93.8 C399.4 96 397.8 97.4 399.7 98.7 C401.7 100 403.4 97.1 405.5 98.5 C407.6 99.9 406.3 102.5 407.5 104 C408.7 105.5 409.3 104 410 104"/><path d="M400 80 C400.7 79.2 400.7 77.6 402.6 77.1 C404.4 76.7 404.9 78.6 407 78.3 C409.1 78 408.6 77 410.4 76 C412.1 75 412.1 75.2 413.6 74.6 C415.1 74.1 415.4 74.2 416 74"/><path d="M410 70 C410.2 70.6 409.2 71.5 410.7 72.2 C412.2 73 413.4 72.1 415.5 72.8 C417.7 73.5 418.1 72.9 418.7 74.8 C419.2 76.7 417 77.9 417.6 79.9 C418.3 81.8 420 80.2 421.1 82.1 C422.2 84 420.4 85.8 421.7 87 C423 88.2 424.4 85.8 426.1 86.6 C427.8 87.5 427.5 89.1 428 90"/><path d="M440 95 C440.6 94.4 441.6 95 442.2 92.9 C442.8 90.9 441.2 89.1 442.3 87.3 C443.3 85.4 444.9 87.2 446.3 86 C447.7 84.8 447.3 84.8 447.6 82.8 C447.9 80.8 446 80 447.5 78.4 C449 76.8 451.7 78.7 453.2 76.8 C454.7 74.9 452.6 72.6 453 71.3 C453.5 70 454.5 71.8 455 72"/><path d="M448 100 C448.6 100.5 448.8 102.3 450.3 101.7 C451.7 101.1 451.8 99.4 453.4 97.7 C455.1 95.9 454.5 95.9 456.5 95.2 C458.4 94.4 459.3 94.6 460.7 94.8 C462.2 95 461.7 95.7 462 96"/><path d="M452 120 C452.7 120 453.2 118.9 454.6 120.2 C456 121.4 455.6 124.4 457.2 124.8 C458.7 125.3 458.6 121.7 460.4 121.8 C462.2 121.9 461.7 124.3 463.9 125.1 C466.2 126 467.2 124.2 468.8 124.9 C470.4 125.7 469.7 127.2 470 128"/><path d="M402 120 C402.7 120.5 403.3 121 404.8 121.8 C406.3 122.7 405.7 123.1 407.8 123.4 C409.9 123.6 411.4 121.6 412.8 122.8 C414.1 124 412.1 126.5 412.7 127.9 C413.3 129.3 414.4 128 415 128"/><path d="M400 95 C400.3 94.3 399.6 92.7 401 92.5 C402.5 92.2 403.4 94.7 405.4 94.1 C407.5 93.4 408 92.4 408.6 90 C409.3 87.6 406.8 86.8 407.9 85.1 C409 83.3 410.8 84.8 412.7 83.4 C414.6 82.1 414.4 80.9 415 80"/><path d="M445 120 C445.2 121.1 445.7 121.7 445.7 124 C445.6 126.2 446.2 126.4 444.9 128.4 C443.5 130.4 441.3 129.1 440.6 131.4 C439.9 133.8 442.7 134.4 442.2 137.1 C441.7 139.8 439.4 139.5 438.8 141.7 C438.2 143.8 439.7 144.1 440 145"/><path d="M405 150 C405.5 149.2 405 147.6 406.8 146.9 C408.7 146.2 410.7 148.4 411.9 147.3 C413.1 146.1 410.2 143.7 411.2 142.6 C412.2 141.4 413.9 143.7 415.7 143 C417.5 142.3 417.4 140.8 418 140"/><path d="M444 160 C444.9 160.2 446 161.7 447.4 160.7 C448.7 159.6 447.6 157.6 449.1 156.1 C450.7 154.5 451.6 156.3 453.2 154.8 C454.8 153.3 453.7 151.7 455 150.4 C456.3 149.1 457.2 150.1 458 150"/><path d="M365 90 C365.7 89.8 366.2 88.3 367.7 89.1 C369.1 89.8 368.6 92.4 370.5 92.9 C372.4 93.3 373.1 90.3 374.9 90.7 C376.7 91.1 375.5 93.9 377.2 94.4 C379 95 379.4 92.5 381.4 92.7 C383.5 92.8 384 94.4 385 95"/><path d="M390 120 C390.9 119.4 391.8 119.1 393.2 117.9 C394.7 116.7 394.6 117.4 395.5 115.6 C396.5 113.8 395.4 112.4 396.9 111.1 C398.4 109.9 399.8 112.2 401.1 110.9 C402.4 109.7 400.6 108.4 401.8 106.5 C402.9 104.6 404.5 105.6 405.3 103.8 C406.2 102.1 405.1 101 405 100"/><path d="M455 140 C455 139.1 456.2 138 455 136.6 C453.8 135.2 452 136.6 450.5 134.7 C449 132.8 450.9 131.3 449.4 129.5 C447.9 127.7 446.2 128.4 445 128"/><path d="M470 125 C470.8 124.6 471.9 125.2 473 123.6 C474.1 122.1 472.7 119.8 474.1 119.3 C475.6 118.8 476.5 121.9 478.5 121.9 C480.4 121.9 479.3 120.3 481.4 119.4 C483.5 118.4 484.6 119.5 486.4 118.4 C488.1 117.2 487.6 115.9 488 115"/><path d="M384 115 C384.6 115 385.1 113.4 386.1 114.9 C387 116.4 386.1 119.7 387.7 120.6 C389.3 121.6 390.1 117.9 392.1 118.6 C394 119.2 393.1 121.6 395.1 123.1 C397.1 124.5 398.2 122.7 399.6 124 C400.9 125.3 399.9 126.9 400 128"/><path d="M430 115 C430.3 114.5 429.6 113.2 431.3 113 C433 112.8 433.8 114.3 436.5 114.1 C439.1 113.9 439.3 113.2 441.3 112.2 C443.2 111.2 442.2 111.4 444 110.3 C445.8 109.2 446.9 108.6 448 108"/><path d="M434 125 C434.8 124.9 435.4 123.2 437 124.5 C438.6 125.8 438.4 129.4 440.1 129.9 C441.7 130.5 441.1 127.2 443.2 126.5 C445.3 125.8 446.3 125.9 447.9 127.3 C449.4 128.6 447.9 130.4 449 131.6 C450.1 132.9 451.2 131.9 452 132"/><path d="M440 84 C440.7 83.7 441.1 82.4 442.6 82.9 C444.2 83.3 443.4 85.1 445.9 85.7 C448.3 86.4 449.5 83.9 451.7 85.3 C453.9 86.7 452.4 89.6 454.1 90.9 C455.8 92.1 457 90.2 458 90"/><path d="M458 80 C458.1 80.9 457.6 81.7 458.4 83.4 C459.2 85.2 459.7 85 461 86.5 C462.2 87.9 461.5 88.2 463.2 88.9 C464.8 89.5 465.5 88.1 467.3 88.9 C469.1 89.8 469.3 91.2 470 92"/><path d="M410 112 C410.7 112.6 410.9 112.7 412.5 114.3 C414.1 115.8 415.2 115.4 415.9 117.6 C416.7 119.9 414.7 120.9 415.3 122.6 C415.9 124.3 417.3 123.6 418 124"/><path d="M396 108 C396.3 108.8 395.5 110.4 397.1 111 C398.7 111.5 400 109.4 402.1 110 C404.2 110.6 403.1 112.8 405.1 113.2 C407 113.6 407.5 110.7 409.4 111.4 C411.2 112.2 411.3 114.8 412 116"/><path d="M380 124 C380.8 124.1 381.6 123.3 382.9 124.4 C384.2 125.5 383 127.4 385 128.1 C386.9 128.9 388.4 126.2 390.2 127.2 C392 128.1 390.2 130.9 391.8 131.6 C393.3 132.3 394.4 129.8 396 129.9 C397.7 130 397.5 131.4 398 132"/><path d="M430 150 C430.7 150.9 430.6 152.4 432.7 153.3 C434.8 154.3 436.7 152.3 437.8 153.6 C439 155 435.7 157 437.1 158.3 C438.4 159.6 440.7 158 443 158.5 C445.4 159 445.2 159.6 446 160"/><path d="M412 130 C412.3 131.1 412.3 132.4 413.1 134.1 C413.9 135.8 413.1 135.1 415 136.5 C416.8 137.9 419.2 137.6 420 139.4 C420.8 141.2 417.7 141.4 418 143.2 C418.3 145.1 420.4 144.4 421 146.3 C421.5 148.1 420.3 149 420 150"/><path d="M452 150 C452.1 150.8 450.9 152.1 452.3 152.9 C453.6 153.8 455.8 151.5 457.1 153.1 C458.5 154.7 456.4 156.9 457.5 158.9 C458.6 161 459.6 160.5 461.3 160.7 C463 161 463.3 160.2 464 160"/><path d="M478 84 C479 84.5 479.8 86 481.6 85.8 C483.5 85.5 483.2 84.9 484.9 83 C486.6 81.1 486.6 79.3 488 78.5 C489.3 77.7 489.5 79.6 490 80"/><path d="M446 86 C445.9 86.6 444.9 86.9 445.7 88.3 C446.5 89.8 447.8 89.6 449 91.4 C450.1 93.2 450.2 92.8 450.1 95.1 C449.9 97.3 448.4 98.6 448.4 99.9 C448.4 101.3 449.6 100 450 100"/><path d="M420 90 C421.1 90.2 422.5 89.3 423.9 90.6 C425.4 92 423.9 93.6 425.3 95 C426.8 96.5 427.9 94.9 429.3 96.1 C430.6 97.3 429 99 430.5 99.5 C431.9 100.1 433.4 98.1 434.8 98.2 C436.3 98.3 435.7 99.5 436 100"/><path d="M386 98 C386.1 98.8 385.2 99.5 386.5 101 C387.7 102.4 390.1 101.4 390.6 103.5 C391.1 105.5 388 106.9 388.3 108.6 C388.7 110.4 391 109.6 392 110"/><path d="M392.7 86.6 C393.2 87.2 392.9 88.2 394.4 88.8 C396 89.4 396.9 87.7 398.4 88.8 C400 89.9 398.3 92 400.3 92.8 C402.3 93.6 403.7 91.2 405.8 91.8 C408 92.5 406.9 95.5 408.2 95.3 C409.6 95 409 92.2 410.8 91 C412.7 89.9 414.1 92.5 415.2 91.1 C416.2 89.6 413.6 87.4 414.8 85.6 C415.9 83.7 418.2 85.8 419.4 84.2 C420.7 82.7 418 80.7 419.3 79.8 C420.6 78.8 422.3 81.5 424.3 80.7 C426.3 79.8 425.2 76.8 426.9 76.6 C428.6 76.4 428.2 79.5 430.6 79.9 C432.9 80.3 433.7 77.6 435.7 78.1 C437.7 78.5 437 80.8 438.1 81.5 C439.2 82.2 439.4 80.9 439.8 80.7"/><path d="M437.7 80 C438.6 80 439.3 79.2 441.1 80.1 C442.9 81 442.2 82.8 444.6 83.4 C446.9 84 447.7 81.4 450 82.3 C452.2 83.1 450.8 86.1 453.1 86.6 C455.4 87.1 456.4 83.9 458.6 84.2 C460.8 84.5 459.7 87.4 461.4 87.7 C463 87.9 462.6 85.4 464.8 85 C467 84.5 467.7 86.9 469.7 86 C471.8 85.1 470.5 82.7 472.5 81.6 C474.4 80.4 475.7 81.6 476.9 81.6"/><path d="M392.3 85.6 C392.5 86.6 393.7 87.8 393 89.4 C392.4 91 390.7 89.8 389.9 91.5 C389 93.2 391.4 94.6 389.9 95.7 C388.4 96.9 385.8 94.7 384.3 95.9 C382.8 97.2 385.1 98.3 384.2 100.3 C383.3 102.4 381.9 102.7 381 103.5"/><path d="M395.6 85.2 C396.1 85.9 396 87.7 397.8 87.8 C399.5 87.8 400.5 84.9 402 85.4 C403.5 85.9 401.7 88.8 403.5 89.7 C405.3 90.5 406.8 87.9 408.7 88.5 C410.7 89.1 410.3 90 410.9 92 C411.4 94 410.7 93.9 410.9 96 C411.1 98 412.1 97.5 411.5 99.6 C410.9 101.7 408.5 102 408.6 103.9 C408.7 105.8 411.3 104.9 411.9 106.7 C412.5 108.6 409.9 110 411.1 110.8 C412.2 111.7 413.7 109.1 416.3 109.9 C418.9 110.7 418.5 113.9 420.8 113.8 C423.1 113.8 423 110.3 424.8 109.8 C426.6 109.2 426.9 111.4 427.6 111.9"/><path d="M436.4 74.8 C436 75.6 434.8 76.2 434.9 77.8 C435 79.4 436.3 78.7 436.8 80.9 C437.2 83.2 437.3 83.9 436.6 86.3 C435.9 88.7 436 89.3 434.2 89.9 C432.4 90.5 431.8 87.6 429.9 88.6 C427.9 89.6 429.2 92.5 427 93.7 C424.8 94.8 422.9 92 421.5 92.9 C420.2 93.9 423 95.6 422 97.3 C421 98.9 419.1 97.5 417.8 99 C416.6 100.6 417.3 101 417.4 103.2 C417.5 105.5 418.1 106.5 418.3 107.6"/><path d="M476.1 78.7 C475.9 79.7 476 80.3 475.2 82.3 C474.4 84.4 475.1 85 473.1 86.4 C471 87.8 469.3 86.5 467.5 87.6 C465.6 88.7 466.3 88.7 466.2 90.5 C466.2 92.3 467.1 92.5 467.4 94.4 C467.6 96.2 466.8 95.5 467.3 97.5 C467.8 99.4 469 99.7 469.3 101.5 C469.7 103.3 468.9 103.6 468.7 104.3"/><path d="M378.8 109.8 C379.7 109.3 380.1 107.4 382.2 107.8 C384.4 108.2 384.4 111.3 386.8 111.4 C389.1 111.4 389.2 107.9 391 107.9 C392.9 108 391.7 110.9 393.9 111.5 C396.1 112.1 397.6 109.6 399.4 110.3 C401.2 111 399.2 113.4 400.7 114 C402.3 114.7 403.1 113 405.1 112.8 C407.1 112.5 406.3 112.9 408.2 113.2 C410.2 113.5 409.8 113.4 412.4 113.9 C414.9 114.3 415.7 115.9 417.7 114.8 C419.6 113.7 417.9 111.2 419.7 109.7 C421.5 108.1 423.1 109.3 424.4 109.1"/><path d="M423 105.5 C423.4 106 423.2 107.9 424.4 107.5 C425.6 107 425.4 103.9 427.4 103.9 C429.5 103.8 429.6 106.9 432.1 107.2 C434.6 107.5 434.8 104.3 436.9 105 C439.1 105.6 438.2 108.7 440.2 109.7 C442.2 110.7 442.8 107.8 444.3 108.8 C445.8 109.7 444.7 111.4 445.8 113.2 C447 115 447.2 114.4 448.5 115.5 C449.8 116.6 449.1 116.5 450.7 117.5 C452.3 118.4 452.6 119.2 454.4 119 C456.3 118.8 455.6 116.9 457.7 116.7 C459.8 116.5 460.4 119.2 462.2 118.3 C464.1 117.4 462.7 114.7 464.6 113.4 C466.6 112.1 467.2 114 469.6 113.3 C472 112.6 472.3 112.2 473.7 110.8 C475 109.5 474.4 108.9 474.7 108.1"/><path d="M375.1 106.8 C375.2 107.7 373.9 108.7 375.3 110.2 C376.7 111.6 379.1 110.7 380.3 112.4 C381.5 114.2 378.8 114.8 379.7 116.7 C380.7 118.6 383.3 117.7 383.9 119.5 C384.5 121.3 381.5 121.6 382 123.4 C382.4 125.1 385.5 124.1 385.7 125.9 C385.9 127.7 382.6 127.8 382.7 130.1 C382.8 132.5 385.6 132.5 386.1 134.7 C386.6 136.9 385 137.4 384.6 138.4"/><path d="M423.7 105.3 C424.4 105.4 425.7 104 426.3 105.6 C426.8 107.2 424.9 109.6 425.9 111.3 C426.8 113.1 429.1 110.6 429.9 112.2 C430.8 113.8 428.4 115 429.1 117.3 C429.9 119.5 432.8 118.4 432.9 120.5 C432.9 122.6 429.4 123.1 429.2 125.2 C428.9 127.2 431.8 126.6 431.7 128.2 C431.7 129.8 429.4 129.6 428.9 131.2 C428.3 132.8 429.4 132 429.6 134.1 C429.7 136.1 429.2 137 429.6 138.9 C429.9 140.8 430.5 140.6 430.9 141.3"/><path d="M471.7 105.4 C471.4 106 469.7 106.3 470.5 107.5 C471.2 108.8 474 108.3 474.6 110.2 C475.1 112 472.4 111.9 472.5 114.5 C472.6 117 475.2 117.9 475 119.7 C474.8 121.6 473.7 120.4 471.8 121.6 C469.8 122.7 470 123.8 467.7 124 C465.5 124.1 464.5 121.2 463.2 122.2 C461.9 123.2 463.9 125.4 462.8 127.6 C461.7 129.8 459.2 128.5 459.1 130.5 C459.1 132.6 462.2 133.4 462.6 135.2 C463 137 461.1 136.8 460.6 137.4"/><path d="M381 134.9 C381.9 135.5 382 136.8 384.2 137.3 C386.4 137.8 386.9 136.6 389.3 136.7 C391.6 136.8 390.8 137.3 392.9 137.7 C395 138.1 394.9 139.1 397.1 138.1 C399.3 137.1 399 134.5 401 133.9 C403.1 133.3 403 136.4 404.9 136 C406.9 135.5 406.2 132.8 408.3 132.2 C410.3 131.6 410.4 133.9 412.6 133.7 C414.9 133.5 414.5 131.9 416.7 131.5 C419 131 418.7 131.6 421.1 132.2 C423.4 132.7 423.5 132.1 425.4 133.4 C427.3 134.7 426.6 136 428.3 137.1 C430.1 138.1 431 137.3 432 137.3"/><path d="M428.2 138.1 C428.2 137.6 426.7 136.8 428.2 136 C429.7 135.1 432 136.9 433.8 135.1 C435.7 133.4 433.6 130.6 435.1 129.4 C436.6 128.1 437.7 129.8 439.6 130.5 C441.5 131.2 439.9 131.5 442.1 132.1 C444.3 132.8 446.3 131.3 447.9 132.9 C449.5 134.5 446.9 136.7 448.1 138.1 C449.3 139.6 451 137.2 452.3 138.4 C453.6 139.5 451.8 141.8 453.1 142.4 C454.5 143 455 140.9 457.4 140.6 C459.8 140.2 460.4 142.1 462.2 141 C464 139.9 462.7 137.7 464.1 136.4 C465.6 135.1 466.7 136.2 467.6 136.2"/><path d="M431.8 77 C432.3 77.5 431.6 79 433.5 79 C435.4 78.9 436.8 76.6 439 76.9 C441.1 77.2 439.6 79.7 441.6 80.2 C443.5 80.6 444.2 78.1 446.3 78.7 C448.3 79.3 447.1 81.5 449.3 82.3 C451.5 83.1 452.5 81 454.5 81.7 C456.5 82.5 455.2 84.5 456.9 85.1 C458.6 85.6 459.4 83.1 460.9 83.8 C462.5 84.4 460.9 86.3 462.7 87.6 C464.6 88.9 466 87.3 467.7 88.7 C469.5 90.1 469.1 90.7 469.3 92.9 C469.6 95.1 467.7 95 468.7 96.8 C469.8 98.6 472.1 97.9 473.4 99.5 C474.6 101.2 473.3 102 473.3 102.9"/><path d="M422.2 106.6 C423 107 423.4 108.2 425.4 108 C427.3 107.8 427.7 105.6 429.4 105.9 C431.2 106.2 430.4 108.3 432 109.2 C433.6 110 433.3 109.2 435.5 109.1 C437.7 108.9 438.8 107.3 440.2 108.5 C441.7 109.8 440.2 111.3 441.1 113.8 C442 116.3 443.7 115.6 443.6 118 C443.5 120.3 441 120.3 440.8 122.5 C440.7 124.7 443.6 124.2 443.1 126.3 C442.6 128.3 440 128.1 439 130.3 C438 132.5 438.1 133.2 439.5 134.5 C441 135.8 442.6 133.7 444.4 135.2 C446.2 136.7 444.4 139.4 446.4 140.2 C448.4 141.1 449.5 137.6 452 138.3 C454.5 139.1 453.9 142.3 455.9 143.2 C457.8 144.1 458.4 142.1 459.4 141.8"/><path d="M380.8 107.4 C381.1 107.7 380.7 108.9 382.1 108.6 C383.4 108.3 383.5 106.2 385.7 106.2 C387.9 106.1 388.1 107.5 390.3 108.3 C392.6 109.2 392 109.6 394 109.3 C396.1 109 396.4 106.6 398 107.2 C399.7 107.8 398.6 109.7 400.2 111.6 C401.9 113.5 403.7 112.5 404.3 114.5 C404.8 116.4 402 116.5 402.4 118.8 C402.7 121.1 404.8 121.1 405.7 123.2 C406.6 125.4 406.3 124.9 405.8 127 C405.3 129 403.5 128.8 403.7 131.1 C404 133.3 404.4 134.7 406.6 135.5 C408.9 136.2 409.5 133.2 412 133.8 C414.6 134.4 413.8 137.2 416.1 137.7 C418.4 138.2 418.4 135.5 420.6 135.7 C422.8 135.9 423.1 138.1 424.3 138.6 C425.5 139.1 424.9 137.8 425.1 137.6"/><path d="M393.8 85.4 C393.9 86.1 393 87.7 394.4 87.9 C395.8 88.2 397.1 86.2 398.9 86.5 C400.7 86.7 399.9 88 401.3 88.9 C402.7 89.8 402.4 89.2 404.2 89.9 C405.9 90.6 406.6 89.9 407.8 91.6 C409.1 93.3 407.2 95.3 409 96.2 C410.8 97.1 412.1 94.1 414.6 95 C417.1 95.8 416.3 99 418.3 99.3 C420.2 99.6 419.8 96.3 421.9 95.9 C423.9 95.6 424.3 98.3 426 97.9 C427.7 97.5 426.5 95.1 428.4 94.4 C430.2 93.7 430.7 95.4 433 95.3 C435.3 95.2 435.2 95.7 437 94.2 C438.9 92.7 437.9 90.5 439.9 89.6 C441.9 88.8 442.3 91.9 444.6 91.1 C446.9 90.4 446.5 87.2 448.5 86.8 C450.5 86.4 450.3 89.4 452.3 89.7 C454.2 89.9 453.8 87.7 455.8 87.8 C457.8 87.8 457.7 88.9 459.8 89.8 C461.8 90.7 462 89.6 463.4 91.2 C464.8 92.7 463.2 94.2 465 95.6 C466.8 97 467.8 95.5 470.2 96.4 C472.7 97.3 472.4 97.9 474.2 99 C476 100.1 476.1 99.3 477 100.4 C477.8 101.5 477.3 102.4 477.4 103.1"/><path d="M423.6 105.3 C423.8 105.9 424.2 105.8 424.4 107.5 C424.7 109.2 425.7 109.7 424.4 111.6 C423.2 113.4 420.3 112.1 419.7 114.4 C419.1 116.6 422.3 117.5 422.2 120 C422.1 122.4 421.4 122.8 419.4 123.4 C417.3 124.1 416.7 121.8 414.5 122.4 C412.3 123 412.8 124.9 411.1 125.5 C409.4 126.1 409.9 126.2 408.1 124.7 C406.4 123.2 406.7 121.6 404.5 120 C402.4 118.5 402.3 118.7 400 118.8 C397.7 118.9 398.2 120.8 396 120.4 C393.7 119.9 393.1 116.9 391.4 117.2 C389.8 117.4 391.5 119.6 389.8 121.4 C388.1 123.2 386.7 122.2 385.1 123.8 C383.5 125.5 384.6 125.7 383.9 127.7 C383.1 129.7 382.1 129.3 382.3 131.3 C382.5 133.2 384.4 133.3 384.6 135 C384.8 136.7 383.4 137 383 137.7"/></g><g fill="none" stroke="#3d6ca6" stroke-width="1.25" stroke-linejoin="round" stroke-linecap="round"><path d="M392.9 86.2 C393.7 86.2 395.5 86.7 396.8 86.1 C398.1 85.5 398 83.5 399.5 83 C401 82.6 402.7 84.2 404.2 83.9 C405.7 83.6 405.6 81.6 407.1 81.5 C408.6 81.3 410 83.3 411.7 83.1 C413.4 83 413.9 80.8 415.6 80.7 C417.3 80.6 418.8 82.9 420.2 82.7 C421.6 82.5 421.2 80.1 422.7 79.6 C424.3 79.2 426.2 80.9 427.8 80.5 C429.4 80.2 429.4 78.3 430.6 77.9 C431.9 77.5 433.1 78.6 433.9 78.5 C434.8 78.4 434.6 77.7 434.8 77.5"/><path d="M434.8 77.5 C435.1 77.7 435.2 78.5 436.2 78.4 C437.2 78.3 438.4 76.8 439.9 76.9 C441.4 77 441.8 78.9 443.6 79 C445.5 79.1 447.6 77 449.1 77.4 C450.7 77.8 449.8 80.3 451.3 81.2 C452.8 82 455 81 456.8 81.8 C458.6 82.6 459 85 460.4 85.2 C461.7 85.4 461.9 83.3 463.4 82.8 C465 82.2 466.9 83.1 468.3 82.5 C469.7 81.9 469.2 80.3 470.4 79.7 C471.6 79.1 473.4 79.8 474.2 79.4 C475.1 79.1 474.6 78.3 474.7 78"/><path d="M392.9 86.2 C392.5 86.7 392.1 88.2 391 88.7 C389.9 89.3 388.1 87.9 387.3 88.9 C386.5 89.9 387.7 92.1 387.1 93.7 C386.6 95.3 384.5 95.5 384.5 97 C384.5 98.4 387.1 99.5 387.1 101 C387.2 102.4 385.9 102.8 384.9 104.3 C383.8 105.8 383.4 107.6 382 108.4 C380.6 109.2 378.7 108 377.9 108.2 C377.1 108.5 378 109.2 378 109.5"/><path d="M392.9 86.2 C393.5 86.5 395.1 86.4 395.8 87.5 C396.4 88.6 395.3 90.7 396.1 91.7 C397 92.7 398.5 91.7 400.2 92.5 C401.8 93.3 402.4 95.5 404.2 95.8 C406.1 96.1 407.6 94 409.2 94 C410.9 94 411 95.6 412.4 95.9 C413.9 96.2 415.4 94.5 416.5 95.4 C417.6 96.4 416.9 99.1 418 100.6 C419 102 420.9 101.2 421.5 102.4 C422.1 103.7 420.9 105.7 421.1 106.6 C421.3 107.5 422.2 106.9 422.5 107"/><path d="M434.8 77.5 C434.9 77.9 435.6 78.2 435.4 79.3 C435.2 80.3 434 81.1 433.9 82.8 C433.8 84.4 435.5 86.2 435 87.4 C434.5 88.6 432.6 87.7 431.2 88.7 C429.9 89.8 429.8 91.8 428.2 92.6 C426.5 93.3 424.3 91.7 423.2 92.5 C422.1 93.3 423 95.1 422.5 96.7 C422.1 98.4 420.8 99.4 420.9 100.9 C420.9 102.4 422.5 103.1 422.9 104.3 C423.2 105.5 422.6 106.5 422.5 107"/><path d="M476 78.1 C476.3 78.9 477.5 80.4 477.3 81.9 C477.1 83.4 475 84.1 475.2 85.8 C475.3 87.4 477.6 88.3 478.1 90.2 C478.7 92.1 477.5 93.6 477.9 95.4 C478.3 97.2 480.2 98.1 480 99.2 C479.7 100.4 477.5 99.7 476.7 101.2 C475.8 102.6 476.3 105.2 475.7 106.5 C475 107.8 473.9 107.3 473.5 107.5"/><path d="M473.4 77.9 C473.5 78.6 474.1 80.2 473.7 81.6 C473.2 83 471.5 83.2 471.3 84.9 C471.1 86.6 472.5 88.1 472.5 90 C472.5 92 471.1 92.9 471.3 94.6 C471.4 96.3 473.2 96.8 473.1 98.4 C472.9 99.9 471.1 100.4 470.6 102.2 C470.2 104 470.8 106.3 470.9 107.3"/><path d="M378 109.5 C378.5 109.6 378.9 110.5 380.3 110.2 C381.8 109.9 383.3 108.1 385.1 108.1 C386.8 108.1 387.6 110.3 389 110.2 C390.4 110.1 390.4 108.1 392.1 107.8 C393.7 107.4 395.7 108.9 397.3 108.4 C398.9 107.9 398.6 105.8 399.9 105.2 C401.1 104.6 402.2 105.8 403.8 105.3 C405.3 104.8 406 102.6 407.7 102.7 C409.5 102.7 410.7 105.2 412.3 105.5 C413.9 105.9 414.6 104 415.8 104.3 C417 104.6 417 106.4 418.3 106.9 C419.6 107.5 421.7 107 422.5 107"/><path d="M422.5 107 C422.7 107.3 422.6 108.1 423.6 108.3 C424.6 108.6 426.1 107.5 427.7 108.2 C429.3 109 429.9 111.5 431.6 112.1 C433.2 112.7 434.5 111.2 436 111.4 C437.5 111.6 438.1 113.4 439.2 113.1 C440.3 112.8 440.1 110.7 441.4 109.8 C442.7 108.8 444.4 109.5 445.6 108.2 C446.9 107 446.2 104.8 447.5 103.6 C448.8 102.4 450.6 103.5 452 102.3 C453.5 101.1 453.6 98.1 454.9 97.7 C456.3 97.2 457.1 99.8 458.7 100.3 C460.3 100.7 461.9 99.4 463.1 100 C464.3 100.6 463.4 102.4 464.6 103.2 C465.9 103.9 468 102.8 469.3 103.8 C470.5 104.8 470.2 107.4 470.8 108.1 C471.4 108.8 471.9 107.5 472.2 107.4"/><path d="M378 109.5 C378.2 109.8 379.4 109.9 379.1 111.2 C378.7 112.5 376.3 114.3 376.2 116 C376 117.8 378.2 118.4 378.2 119.9 C378.2 121.4 376.1 122.1 376.2 123.6 C376.2 125.1 378.2 125.9 378.6 127.4 C378.9 128.9 377 129.9 377.8 131.1 C378.6 132.4 381.2 132.7 382.3 133.7 C383.5 134.8 383.3 135.9 383.6 136.4"/><path d="M423.8 106.8 C423.8 107.4 423.1 108.5 424 109.8 C425 111.1 427.5 111.6 428.3 113.2 C429.2 114.7 427.9 115.9 428.4 117.6 C429 119.3 430.9 119.9 431 121.6 C431.2 123.2 429.3 124 429.2 125.9 C429.1 127.7 431 129.2 430.5 131 C430 132.8 427.3 133.9 426.7 135 C426.1 136.1 427.4 136.3 427.6 136.6"/><path d="M421.2 107.2 C421.4 107.7 421.1 108.7 421.9 109.8 C422.8 110.9 424.8 111.2 425.3 112.7 C425.9 114.1 424.5 115.5 424.7 117.1 C424.9 118.7 426.7 118.9 426.2 120.5 C425.8 122 422.8 123 422.4 124.7 C422 126.4 424.1 127.1 424.2 129 C424.3 130.8 422.9 132.4 423 134 C423.2 135.6 424.6 136.4 425 137"/><path d="M473.5 107.7 C473.8 108.4 475.2 109.8 475.3 111.2 C475.4 112.5 473.9 113.1 474 114.5 C474.2 115.9 476.4 116.7 476.1 118.1 C475.9 119.5 473.9 119.7 472.9 121.3 C471.9 123 472.5 124.9 471.2 126.3 C469.9 127.7 467.2 126.9 466.4 128.2 C465.7 129.6 467.7 131.5 467.3 133.3 C467 135 464.7 135.7 464.6 137.2 C464.4 138.7 466.4 139.8 466.6 140.7 C466.9 141.6 465.9 141.6 465.8 141.8"/><path d="M470.9 107.1 C470.9 107.8 469.9 109.1 470.6 110.3 C471.2 111.6 473.8 111.6 474.1 113.2 C474.4 114.8 472.3 116.5 471.9 118.3 C471.4 120.2 472.7 121.6 471.8 122.3 C471 123.1 469.3 121.3 467.8 122.1 C466.4 122.8 466.1 124.9 464.6 126.1 C463.2 127.3 460.9 126.7 460.3 128 C459.7 129.3 461.8 130.9 461.8 132.5 C461.8 134.2 460 134.9 460.4 136.2 C460.8 137.6 463.2 138.3 463.8 139.3 C464.4 140.3 463.3 140.8 463.2 141.2"/><path d="M383.6 136.4 C384.2 136.3 385.4 136.7 386.4 135.9 C387.4 135.2 387.2 133.4 388.7 132.7 C390.2 132 392.1 133.1 394.1 132.5 C396.1 131.8 396.8 129.7 398.5 129.3 C400.2 128.9 401 130.8 402.5 130.5 C404.1 130.3 404.6 128 406.2 128 C407.8 128 408.8 130.3 410.6 130.5 C412.4 130.8 413.7 128.9 415.1 129.3 C416.4 129.7 416.2 131.9 417.4 132.5 C418.6 133.1 419.8 131.3 421 132.2 C422.3 133 422.6 135.8 423.6 136.7 C424.7 137.6 425.8 136.8 426.3 136.8"/><path d="M426.3 136.8 C427 137.2 428.2 138.4 429.9 138.6 C431.6 138.9 433.2 137.8 434.8 138.2 C436.3 138.6 436.3 140.3 437.7 140.5 C439.1 140.6 440.2 138.9 441.7 139 C443.2 139.1 443.7 140.7 445.1 140.7 C446.5 140.8 447 139 448.8 139.2 C450.5 139.3 452 141.4 453.8 141.5 C455.6 141.5 456.3 139.2 457.7 139.3 C459.1 139.4 459.5 141.5 460.8 142 C462.2 142.4 463.8 141.6 464.5 141.5"/><path d="M392.9 86.2 C392.5 86.3 391.5 87.1 390.8 86.5 C390 85.9 390.2 83.7 389 83.1 C387.8 82.5 386.2 84 384.9 83.4 C383.6 82.9 383.8 80.8 382.5 80.3 C381.2 79.9 379.8 81.7 378.4 81 C377 80.3 377.4 77.7 375.7 77 C374 76.2 371.5 77.7 369.9 77 C368.4 76.4 368.8 74.3 368 73.7 C367.2 73.1 366.4 73.9 366 74"/><path d="M392.9 86.2 C393 85.7 392.6 84.5 393.6 83.5 C394.6 82.5 397.5 82.3 397.9 81.1 C398.4 80 396.5 79.4 395.8 77.9 C395.2 76.4 395.7 75.2 394.8 73.5 C393.9 71.8 391.4 70.5 391.4 69.3 C391.4 68.1 393.9 68.7 394.8 67.6 C395.8 66.6 395.8 64.7 396 64"/><path d="M392.9 86.2 C392.5 86.2 392 85.2 391.1 86.2 C390.2 87.3 389.9 90.5 388.2 91.4 C386.5 92.3 384.3 89.8 382.6 90.6 C380.9 91.3 380.6 94.2 379.7 95.3 C378.8 96.4 378.3 95.9 378 96"/><path d="M434.8 77.5 C434.3 76.9 432.9 75.9 432.3 74.3 C431.7 72.7 432.5 70.5 431.6 69.5 C430.8 68.5 429.1 70.1 427.9 69.3 C426.8 68.5 427 66.4 425.8 65.4 C424.5 64.4 423 65.4 421.8 64.3 C420.7 63.2 420.4 60.9 420 60"/><path d="M434.8 77.5 C435.2 76.8 435.3 74.9 436.6 74 C438 73 440 73.6 441.5 72.8 C443.1 72 443.2 70.8 444.5 69.8 C445.9 68.8 447.8 69.1 448.3 67.6 C448.9 66.2 447.2 63.8 447.1 62.7 C447 61.6 447.8 62.1 448 62"/><path d="M434.8 77.5 C435 77.7 435.7 77.8 435.7 78.7 C435.7 79.6 434.5 80.8 435 81.9 C435.4 83.1 437.2 83.2 438 84.5 C438.7 85.7 437.6 87.3 438.6 88.3 C439.6 89.2 441.4 88.6 442.8 89.3 C444.3 90.1 445.4 91.5 446 92"/><path d="M474.7 78 C474.1 77.5 473.5 76.3 471.9 75.6 C470.4 75 467.7 75.6 466.9 74.7 C466.2 73.7 468.5 72.6 468.3 70.9 C468.2 69.2 466.6 68.1 466.3 66.3 C466 64.5 467.6 62.7 466.7 61.8 C465.9 60.9 463.6 62.2 462.2 61.8 C460.9 61.5 460.4 60.4 460 60"/><path d="M474.7 78 C475.3 78.2 476 79.2 477.5 79.1 C479.1 79 480.7 77.1 482.4 77.5 C484.2 78 484.5 80.2 486.2 81.1 C487.8 82.1 489.5 81.4 490.6 82.3 C491.8 83.3 491.7 85.3 492 86"/><path d="M474.7 78 C474.7 77.5 473.9 76.6 474.6 75.7 C475.4 74.8 477.2 74.6 478.4 73.6 C479.7 72.5 479.6 71.3 480.9 70.4 C482.2 69.6 483.9 70.4 485 69.5 C486 68.6 485.8 66.7 486 66"/><path d="M378 109.5 C377.3 109.4 375.8 109.6 374.4 108.9 C373.1 108.2 372.8 106.2 371.2 106.1 C369.7 106.1 368.4 108.3 366.7 108.5 C364.9 108.7 364.2 107.7 362.5 107.1 C360.7 106.4 359.1 106.4 357.8 105.4 C356.5 104.3 356.4 102.7 356 102"/><path d="M378 109.5 C377.3 109.8 375.7 110.1 374.4 111.2 C373.1 112.3 373 114.1 371.4 115.1 C369.8 116.1 367.8 115.1 366.4 116.3 C365.1 117.4 365.4 119.6 364.5 120.7 C363.6 121.9 362.5 121.7 362 122"/><path d="M378 109.5 C378.5 109.9 379.3 111.4 380.7 111.7 C382.2 112.1 383.9 110.4 385.2 111.1 C386.5 111.8 385.8 114.1 387.2 115.3 C388.5 116.6 390.8 116.5 391.8 117.4 C392.8 118.3 392 119.5 392 120"/><path d="M422.5 107 C421.8 106.7 420.1 106.6 419.2 105.3 C418.3 104 419.2 101.9 418.1 100.5 C417 99.2 414.9 99.5 413.6 98.5 C412.2 97.5 412.3 96 411.2 95.5 C410.1 95 408.6 95.9 408 96"/><path d="M422.5 107 C422.9 106.7 423.9 106.5 424.4 105.3 C424.9 104 424 101.7 425 100.7 C426 99.8 427.7 101.3 429.1 100.5 C430.6 99.6 430.9 97.5 432.3 96.6 C433.7 95.7 435.3 96.1 436 96"/><path d="M472.2 107.4 C472.4 107 472.2 105.8 473.3 105.2 C474.4 104.6 476.5 105.4 477.8 104.4 C479.1 103.4 478.3 101.1 479.6 100.3 C481 99.5 482.8 100.9 484.6 100.3 C486.5 99.7 487.4 97.7 488.9 97.2 C490.3 96.8 491.4 97.8 492 98"/><path d="M472.2 107.4 C472.5 107.5 473.4 107 473.9 107.9 C474.3 108.8 473.3 110.6 474.4 111.8 C475.5 113 478.3 112.6 479.3 113.8 C480.4 115 478.4 116.9 479.5 117.8 C480.6 118.8 483.4 117.8 484.9 118.7 C486.5 119.5 486.4 121.4 487.4 122.1 C488.4 122.7 489.5 122 490 122"/><path d="M472.2 107.4 C471.7 106.9 470.4 106 469.5 104.7 C468.6 103.4 469.2 101.3 467.9 100.9 C466.6 100.5 464.5 103.1 463 102.7 C461.5 102.2 461.5 100 460.5 98.7 C459.5 97.4 458.5 96.5 458 96"/><path d="M383.6 136.4 C383.4 136.9 382.4 137.4 382.4 138.7 C382.4 140.1 383.4 141.4 383.6 143 C383.8 144.6 382.5 145.5 383.4 146.6 C384.3 147.7 387.1 147.3 388.2 148.5 C389.2 149.7 388.3 150.6 388.4 152.5 C388.6 154.3 389.2 156.2 388.9 157.7 C388.6 159.2 387.4 159.5 387 160"/><path d="M383.6 136.4 C383.2 136.3 382.4 136.9 381.8 135.9 C381.3 135 382.2 132.4 381.1 131.6 C379.9 130.8 377.9 132.2 376.1 131.9 C374.3 131.6 374 130 372.3 129.9 C370.6 129.8 369.1 131.3 367.8 131.3 C366.5 131.4 366.4 130.3 366 130"/><path d="M383.6 136.4 C383.6 137 382.8 138.5 383.7 139.5 C384.5 140.6 386.4 140.6 387.9 141.5 C389.5 142.4 390 143.5 391.5 144 C393.1 144.4 394.7 143.1 395.6 143.9 C396.6 144.6 395.6 146.6 396.1 147.8 C396.5 149.1 397.6 149.6 398 150"/><path d="M426.3 136.8 C426.6 137.3 427.9 138.2 427.9 139.5 C427.9 140.8 426.2 141.7 426.4 143.2 C426.7 144.7 428.5 145.5 429.1 147 C429.6 148.4 428.5 149.4 429.2 150.6 C429.8 151.7 432.1 151.5 432.3 152.8 C432.5 154 430.5 155.1 430.1 156.9 C429.8 158.8 430.8 160.5 430.4 162.1 C429.9 163.7 428.5 164.4 428 165"/><path d="M426.3 136.8 C426.4 137.5 427.1 139 426.6 140.1 C426.1 141.3 424.8 141.2 423.8 142.4 C422.9 143.7 423.2 145.9 421.9 146.5 C420.6 147.2 418.9 145.1 417.4 145.7 C415.8 146.3 415.8 148.2 414.3 149.5 C412.9 150.8 410.9 151.5 410 152"/><path d="M426.3 136.8 C426.8 137.1 427.9 136.8 428.8 138.1 C429.7 139.4 429.4 142.2 431 143.3 C432.6 144.5 435.3 142.9 436.7 144 C438.1 145.1 437.2 147.7 437.8 148.9 C438.5 150.1 439.6 149.8 440 150"/><path d="M464.5 141.5 C464.4 141.8 463.5 142 463.8 143 C464.1 144.1 466 145.2 466.1 146.8 C466.2 148.5 464.2 149.4 464.3 151.3 C464.4 153.1 466.5 154.1 466.7 156 C466.9 158 465.5 159 465.5 161.1 C465.4 163.1 466.7 164.5 466.4 166.2 C466.1 167.9 464.2 168.4 463.8 169.6 C463.4 170.7 464.4 171.5 464.5 172"/><path d="M464.5 141.5 C464.7 142 464.5 142.9 465.7 143.8 C466.9 144.7 469.4 144.7 470.6 146.2 C471.7 147.6 470.3 149.7 471.4 151.1 C472.4 152.5 474.5 152 475.7 153.1 C476.9 154.3 476.2 156.2 477.4 156.8 C478.5 157.4 480.4 155.9 481.7 156.2 C483 156.4 483.5 157.6 484 158"/><path d="M464.5 141.5 C464.4 141 463.5 140 464.2 139.1 C464.9 138.1 466.8 138 467.9 136.7 C469 135.5 468.4 133.9 469.7 133 C471 132.1 473.1 133.1 474.3 132.1 C475.6 131.2 475.7 128.8 476 128"/></g><g fill="none" stroke="#55622c" stroke-width="1"><path d="M373.5 81.3 L374 83.1 L376.4 81.2 L376.2 84.3 L378.6 82.4 L378.4 85.5 L380.8 83.6 L380.7 86.7 L383.1 84.8 L382.9 87.9 L385.3 86 L385.1 89.1 L387.5 87.2 L388 89"/><path d="M361.5 104.5 L361.9 106.4 L364.5 104.7 L364.2 107.7 L366.8 106 L366.5 109.1 L369 107.4 L368.7 110.5 L371.3 108.8 L371 111.8 L373.6 110.1 L374 112"/><path d="M418 76 L418.7 77.8 L421 75.7 L421.2 78.8 L423.5 76.7 L423.7 79.8 L426 77.7 L426.2 80.8 L428 80"/><path d="M440 80 L440.8 81.7 L442.8 79.5 L443.2 82.5 L445.2 80.3 L445.6 83.3 L447.6 81.1 L448 84.1 L450 81.9 L450.4 84.9 L452 84"/><path d="M462 72 L462.5 73.8 L464.9 71.9 L464.8 75 L467.2 73 L467.1 76.1 L469.5 74.2 L470 76"/><path d="M402 104 L403.1 105.6 L404.7 103 L405.6 105.9 L407.3 103.3 L408.2 106.3 L409.8 103.7 L410.7 106.7 L412.4 104.1 L413.3 107 L414.9 104.4 L416 106"/><path d="M428 112 L427.9 113.9 L430.8 112.8 L429.7 115.7 L432.5 114.6 L431.5 117.4 L434.3 116.3 L433.2 119.2 L436.1 118.1 L436 120"/><path d="M478 110 L478.8 111.7 L480.8 109.5 L481.2 112.5 L483.2 110.3 L483.6 113.3 L485.6 111.1 L486 114.1 L488 111.9 L488.4 114.9 L490 114"/><path d="M372 130 L372.2 131.9 L374.8 130.4 L374.2 133.4 L376.8 131.9 L376.2 134.9 L378.8 133.4 L378.2 136.4 L380 136"/><path d="M386 140 L386.4 141.9 L388.9 140.1 L388.6 143.2 L391.2 141.5 L390.8 144.5 L393.4 142.8 L393.1 145.9 L395.6 144.1 L396 146"/><path d="M414 132 L414.5 133.8 L416.9 131.9 L416.8 135 L419.2 133 L419.1 136.1 L421.5 134.2 L422 136"/><path d="M430 142 L430.4 143.9 L432.9 142.1 L432.6 145.2 L435.2 143.5 L434.8 146.5 L437.4 144.8 L437.1 147.9 L439.6 146.1 L440 148"/><path d="M456 136 L456.4 138 L459.2 136.4 L458.8 139.6 L461.6 138 L462 140"/><path d="M470 146 L470.6 147.9 L473 145.9 L473 149.1 L475.4 147.1 L475.4 150.3 L477.8 148.3 L477.8 151.5 L480.2 149.5 L480.2 152.7 L482 152"/><path d="M388 122 L387.9 123.9 L390.8 122.8 L389.7 125.7 L392.5 124.6 L391.5 127.4 L394.3 126.3 L393.2 129.2 L396.1 128.1 L396 130"/><path d="M444 110 L444.2 111.9 L446.8 110.4 L446.2 113.4 L448.8 111.9 L448.2 114.9 L450.8 113.4 L450.2 116.4 L452 116"/></g><circle cx="392.9" cy="86.2" r="5.6" fill="url(#ng)"/><circle cx="434.8" cy="77.5" r="5.6" fill="url(#ng)"/><circle cx="474.7" cy="78" r="5.6" fill="url(#ng)"/><circle cx="378" cy="109.5" r="5.6" fill="url(#ng)"/><circle cx="422.5" cy="107" r="5.6" fill="url(#ng)"/><circle cx="472.2" cy="107.4" r="5.6" fill="url(#ng)"/><circle cx="383.6" cy="136.4" r="5.6" fill="url(#ng)"/><circle cx="426.3" cy="136.8" r="5.6" fill="url(#ng)"/><circle cx="464.5" cy="141.5" r="5.6" fill="url(#ng)"/><g fill="#bccd3a"><circle cx="460" cy="55.5" r="1.5"/><circle cx="482.7" cy="57.3" r="1.5"/><circle cx="495.5" cy="72.7" r="1.5"/><circle cx="456" cy="86.7" r="1.5"/><circle cx="467.3" cy="89.3" r="1.5"/><circle cx="490.9" cy="88.2" r="1.5"/><circle cx="441" cy="100.5" r="1.5"/><circle cx="416.9" cy="120.6" r="1.5"/><circle cx="458.2" cy="121.6" r="1.5"/><circle cx="450.3" cy="171.3" r="1.5"/><circle cx="472.2" cy="168.5" r="1.5"/><circle cx="433.8" cy="151.6" r="1.5"/><circle cx="481.2" cy="149.7" r="1.5"/><circle cx="401" cy="144.5" r="1.5"/><circle cx="399.8" cy="74.3" r="1.5"/><circle cx="420.8" cy="83.7" r="1.5"/><circle cx="431.3" cy="88.5" r="1.5"/><circle cx="375.5" cy="92.2" r="1.5"/><circle cx="391.5" cy="103.6" r="1.5"/><circle cx="423.8" cy="57" r="1.5"/><circle cx="459.8" cy="55.8" r="1.5"/></g></g></g>
<path d="M22.8 329.4 C24.2 329.6 24.6 330 30 330.2 C35.4 330.4 42 330.4 50 330.6 C58 330.8 64 330.8 70 331 C76 331.2 76.3 331.1 80 331.5 C83.7 331.9 85.7 332.4 88.7 333.2 C91.7 334 92.9 334.3 95 335.3 C97.1 336.3 97.9 337 99.4 338.2 C100.9 339.4 101.1 339.6 102.3 341.1 C103.5 342.6 104 343.6 105.2 345.5 C106.4 347.4 106.9 348.6 108.1 350.5 C109.3 352.4 109.9 353.7 111 354.9 C112.1 356.1 112.5 356.7 113.5 356.7 C114.5 356.7 115 356.3 116.1 354.9 C117.2 353.5 117.8 351.8 119 349.8 C120.2 347.8 120.7 346.4 121.9 344.7 C123.1 343 123.6 342.3 124.8 341.1 C126 339.9 126.5 339.5 127.7 338.9 C128.9 338.3 129.1 338.2 130.6 338.2 C132.1 338.2 133.6 338.6 135 338.9 C136.4 339.2 136.1 338.9 137.8 339.8 C139.5 340.7 140.9 342.3 143.3 343.5 C145.7 344.7 147.4 345.7 149.8 345.7 C152.2 345.7 152.9 344.2 155.3 343.5 C157.7 342.8 159.4 342.2 161.8 342 C164.2 341.8 165.1 342.1 167.3 342.5 C169.5 342.9 170.5 343.5 172.7 344.2 C174.9 344.9 175.8 346.3 178.2 346.2 C180.6 346.1 182.1 344.9 184.7 343.5 C187.3 342.1 188.2 340.9 191.3 339.2 C194.4 337.5 196.3 336 200 334.8 C203.7 333.6 206.5 333.5 210 333 C213.5 332.5 213.4 332.5 217.4 332.1 C221.4 331.7 223.7 331.4 230 331 C236.3 330.6 245.2 330.4 249 330.2" fill="none" stroke="#f6a462" stroke-width="1.15"/>
<path d="M22.8 355.8 C24.4 355.6 27.7 354.7 30.7 354.6 C33.7 354.5 34.5 355 37.8 355.1 C41.1 355.2 43.5 355 47.3 355.1 C51.1 355.2 52.9 355.7 56.7 355.8 C60.5 355.9 61.9 355.7 66.2 355.8 C70.5 355.9 73.1 356.1 78 356.5 C82.9 356.9 86.1 357.5 90.9 357.7 C95.7 357.9 97.4 357.4 101.8 357.3 C106.2 357.2 108.3 356.9 112.7 357 C117.1 357.1 119.2 357.8 123.6 357.7 C128 357.6 130.1 356.7 134.5 356.6 C138.9 356.5 141.1 357 145.5 357 C149.9 357 152 356.9 156.4 356.6 C160.8 356.3 162.9 355.7 167.3 355.5 C171.7 355.3 173.8 355.6 178.2 355.5 C182.6 355.4 184.7 355.1 189.1 354.9 C193.5 354.7 188 354.6 200 354.5 C212 354.4 239.2 354.4 249 354.4" fill="none" stroke="#5b9bd5" stroke-width="1.15"/>
<path d="M22.8 380.1 C24.4 379.9 27.1 379.5 30.9 379.2 C34.7 378.9 37.4 378.5 41.8 378.5 C46.2 378.5 48.3 378.7 52.7 379.2 C57.1 379.7 59.2 380.8 63.6 381.2 C68 381.6 70.1 381.4 74.5 381.2 C78.9 381 81.1 380.3 85.5 380.1 C89.9 379.9 92 379.8 96.4 380.1 C100.8 380.4 102.9 381 107.3 381.8 C111.7 382.6 114.3 383.3 118.2 384 C122.1 384.7 123.8 385.2 126.9 385.1 C130 385 130.9 384.3 133.5 383.6 C136.1 382.9 137.6 382.3 140 381.4 C142.4 380.5 141 380.1 145.4 378.9 C149.8 377.7 155.2 375.9 161.8 375.6 C168.4 375.3 171.7 377.9 178.2 377.3 C184.7 376.7 186.7 373.7 194.5 372.4 C202.3 371.1 206.5 371.2 217.4 370.7 C228.3 370.2 242.7 369.9 249 369.7" fill="none" stroke="#4db56a" stroke-width="1.15"/>
<path d="M22.8 421.8 C24.2 421.6 27.1 421.4 30 421 C32.9 420.6 31.4 420.2 37.4 420 C43.4 419.8 51 419.9 60 420 C69 420.1 73.3 420.1 82.3 420.5 C91.3 420.9 95.3 421.7 104.8 422 C114.3 422.3 119 422.1 130 422 C141 421.9 146 421.8 160 421.5 C174 421.2 189 420.9 200 420.5 C211 420.1 205.2 419.8 215 419.6 C224.8 419.4 242.2 419.4 249 419.3" fill="none" stroke="#ff69c0" stroke-width="1.15"/>
<path d="M22.8 444.4 C24.7 444 28 443 32.4 442.4 C36.8 441.8 34 441.4 45 441.2 C56 441 75.3 440.8 87.3 441.2 C99.3 441.6 96.3 442.8 104.8 443 C113.3 443.2 119 442.3 130 442 C141 441.7 146 441.7 160 441.5 C174 441.3 187.6 441.3 200 441 C212.4 440.7 212.2 440.2 222 440 C231.8 439.8 243.6 440 249 440" fill="none" stroke="#3d3df0" stroke-width="1.15"/>
<rect x="22.3" y="325.9" width="227.3" height="169.8" fill="none" stroke="#4a4a4a" stroke-width="1.3"/>
<path d="M22.3 495.7 v3 M41.2 495.7 v1.8 M60.2 495.7 v3 M79.1 495.7 v1.8 M98.1 495.7 v3 M117 495.7 v1.8 M135.9 495.7 v3 M154.9 495.7 v1.8 M173.8 495.7 v3 M192.8 495.7 v1.8 M211.7 495.7 v3 M230.7 495.7 v1.8 M249.6 495.7 v3 " stroke="#4a4a4a" stroke-width="1.1"/>
<text x="21.7" y="508.4" class="tk" text-anchor="middle">3100</text>
<text x="59.6" y="508.4" class="tk" text-anchor="middle">3050</text>
<text x="97.5" y="508.4" class="tk" text-anchor="middle">3000</text>
<text x="135.3" y="508.4" class="tk" text-anchor="middle">2950</text>
<text x="173.2" y="508.4" class="tk" text-anchor="middle">2900</text>
<text x="211.1" y="508.4" class="tk" text-anchor="middle">2850</text>
<text x="249" y="508.4" class="tk" text-anchor="middle">2800</text>
<path d="M304.2 329.8 C311.4 329.8 326.8 329.8 340 329.9 C353.2 330 362.6 330 370 330.2 C377.4 330.4 372.7 330.8 377 331 C381.3 331.2 387.8 331.2 391.6 331 C395.4 330.8 388.3 330.3 396 330.2 C403.7 330.1 413.2 330.3 430 330.3 C446.8 330.3 466 330.5 480 330.4 C494 330.3 488.6 330 500 330 C511.4 330 529.4 330.3 536.8 330.4" fill="none" stroke="#4a5ef0" stroke-width="1.15"/>
<path d="M304.2 358.2 C309.4 358.3 320.1 358.4 330 358.5 C339.9 358.6 343.8 358.7 353.8 358.9 C363.8 359.1 373 359.2 380 359.3 C387 359.4 385.7 359.1 389 359.3 C392.3 359.5 393.8 359.8 396.5 360.5 C399.2 361.2 400.4 361.6 402.5 362.8 C404.6 364 405.2 364.7 407 366.5 C408.8 368.3 410 370.2 411.5 371.8 C413 373.4 413 373.6 414.5 374.3 C416 375 417.2 374.7 419 375.2 C420.8 375.7 422 377.2 423.5 377 C425 376.8 425.3 375.6 426.5 374 C427.7 372.4 428 371 429.5 368.8 C431 366.6 431.9 364.6 434 362.8 C436.1 361 437.3 360.7 440 359.8 C442.7 358.9 443.5 358.7 447.5 358.3 C451.5 357.9 452.1 357.7 460 357.6 C467.9 357.5 480.1 357.3 487 357.8 C493.9 358.3 491.5 359.4 494.5 360.2 C497.5 361 499 362 502 362 C505 362 506.5 360.9 509.5 360.2 C512.5 359.5 511.5 358.8 517 358.3 C522.5 357.8 532.8 357.9 536.8 357.8" fill="none" stroke="#3c3c3c" stroke-width="1.15"/>
<path d="M304.2 371.7 C310.8 372 323.6 372.7 337.3 373.3 C351 373.9 364.2 374.3 372.7 374.5 C381.2 374.7 376.7 374.4 380 374.5 C383.3 374.6 385.7 374.7 389 375.2 C392.3 375.7 393.8 375.9 396.5 377 C399.2 378.1 400.4 378.7 402.5 380.8 C404.6 382.9 405.2 384.1 407 387.5 C408.8 390.9 409.7 393.5 411.5 398 C413.3 402.5 414.2 405.8 416 410 C417.8 414.2 418.8 416.5 420.5 419 C422.2 421.5 422.8 422.3 424.3 422.6 C425.8 422.9 426.4 422.4 428 420.5 C429.6 418.6 430.4 417.2 432.5 413 C434.6 408.8 436.1 404.1 438.5 399.5 C440.9 394.9 441.8 392.9 444.5 389.8 C447.2 386.7 448.9 385.4 452 383.8 C455.1 382.2 455.4 382 460 381.8 C464.6 381.6 469.3 382.4 475 382.7 C480.7 383 484.6 382.3 488.5 383.3 C492.4 384.3 491.9 385.5 494.5 387.5 C497.1 389.5 499 393 501.7 393.2 C504.4 393.4 505.2 390.6 508 388.3 C510.8 386 512.2 383.8 515.5 381.5 C518.8 379.2 520.2 378.3 524.5 376.7 C528.8 375.1 534.3 374 536.8 373.3" fill="none" stroke="#f23c3c" stroke-width="1.15"/>
<path d="M304.2 422 C311.3 422.1 325.3 422.4 339.9 422.5 C354.5 422.6 366.3 422.1 377.3 422.5 C388.3 422.9 388.3 423.6 394.8 424.3 C401.3 425 404 425.8 410 426.2 C416 426.6 419 426.9 425 426.5 C431 426.1 433 425 440 424.3 C447 423.6 450.7 423.5 460 423.2 C469.3 422.9 477.1 422.7 486.4 423 C495.7 423.3 496.6 424.4 506.7 424.7 C516.8 425 530.8 424.7 536.8 424.7" fill="none" stroke="#35ae46" stroke-width="1.15"/>
<path d="M304.2 443.7 C311.3 443.8 327.8 444.4 339.9 444.4 C352 444.4 354.9 443.6 364.9 443.7 C374.9 443.8 381.3 444.4 389.8 444.9 C398.3 445.4 399.2 446 407.3 446 C415.4 446 414.6 445.2 430.4 445 C446.2 444.8 471.1 444.7 486.4 445 C501.7 445.3 496.6 446.2 506.7 446.6 C516.8 447 530.8 446.9 536.8 447" fill="none" stroke="#5252c4" stroke-width="1.15"/>
<rect x="303.7" y="325.9" width="233.6" height="174.6" fill="none" stroke="#4a4a4a" stroke-width="1.3"/>
<path d="M537.3 500.5 v3 M513 500.5 v1.8 M488.6 500.5 v3 M464.3 500.5 v1.8 M439.9 500.5 v3 M415.6 500.5 v1.8 M391.2 500.5 v3 M366.9 500.5 v1.8 M342.6 500.5 v3 M318.2 500.5 v1.8 " stroke="#4a4a4a" stroke-width="1.1"/>
<text x="342.7" y="513.7" class="tkc" text-anchor="middle">1800</text>
<text x="391.3" y="513.7" class="tkc" text-anchor="middle">1750</text>
<text x="440" y="513.7" class="tkc" text-anchor="middle">1700</text>
<text x="488.7" y="513.7" class="tkc" text-anchor="middle">1650</text>
<text x="537.4" y="513.7" class="tkc" text-anchor="middle">1600</text>
<text x="16.3" y="15.2" class="lab">a</text>
<text x="22.8" y="320.6" class="labb">b</text>
<text x="303.6" y="321" class="labb">c</text>
<text transform="translate(240.3 127.3) scale(0.78 1)" class="cur" text-anchor="middle" x="3.53 10.58 17.63 24.68 31.73 38.78" y="0">Curing</text>
<text transform="translate(23.2 281.4) scale(0.78 1)" class="leg" text-anchor="middle" x="3.53 10.58 17.63 24.68 31.73" y="0">UpyMA</text>
<text transform="translate(107.2 281.4) scale(0.78 1)" class="leg" text-anchor="middle" x="3.53 10.58" y="0">BA</text>
<text transform="translate(165.8 281.4) scale(0.78 1)" class="leg" text-anchor="middle" x="3.53 10.58" y="0">SN</text>
<text transform="translate(208.3 281.4) scale(0.78 1)" class="leg" text-anchor="middle" x="3.53 10.58" y="0">Li</text>
<text transform="translate(238.6 281.4) scale(0.78 1)" class="leg" text-anchor="middle" x="3.53 10.58 17.63 24.68" y="0">TEOS</text>
<text x="221.9" y="278.6" class="leg" style="font-size:6.5px" text-anchor="middle">+</text>
<text x="23.3" y="341.8" class="pl" textLength="20" lengthAdjust="spacing">TEOS</text>
<text x="23.8" y="368.8" class="pl" textLength="15.1" lengthAdjust="spacing">DPS</text>
<text x="23.3" y="388.8" class="pl" textLength="17.4" lengthAdjust="spacing">MPC</text>
<text x="23" y="432" class="pl" textLength="15" lengthAdjust="spacing">DPE</text>
<text x="25" y="454.4" class="pl" textLength="14.4" lengthAdjust="spacing">SPE</text>
<text x="304.7" y="344" class="pl" textLength="20.8" lengthAdjust="spacing">TEOS</text>
<text x="304.7" y="368.3" class="pl" textLength="16" lengthAdjust="spacing">DPS</text>
<text x="304.7" y="384.9" class="pl" textLength="17.2" lengthAdjust="spacing">MPC</text>
<text x="303.9" y="433.7" class="pl" textLength="16.7" lengthAdjust="spacing">DPE</text>
<text x="305" y="454" class="pl" textLength="15" lengthAdjust="spacing">SPE</text>
<text x="408.5" y="360.5" class="pl" textLength="17.3" lengthAdjust="spacing">-C=O</text>
<text x="417.5" y="403.3" class="pl" textLength="17.3" lengthAdjust="spacing">-C=O</text>
<text x="58.2" y="369.0" class="pl"><tspan textLength="29.5" lengthAdjust="spacing">-CH=CH</tspan><tspan dy="1.8" font-size="5.5">2</tspan></text>
<text x="62.5" y="391.0" class="pl"><tspan textLength="29.5" lengthAdjust="spacing">-CH=CH</tspan><tspan dy="1.8" font-size="5.5">2</tspan></text>
<text x="480.3" y="352.3" class="pl"><tspan textLength="29" lengthAdjust="spacing">-CH=CH</tspan><tspan dy="1.8" font-size="5.5">2</tspan></text>
<text x="477.3" y="404.6" class="pl"><tspan textLength="30" lengthAdjust="spacing">-CH=CH</tspan><tspan dy="1.8" font-size="5.5">2</tspan></text>
<text x="90.6" y="520.4" class="ax"><tspan textLength="82.4" lengthAdjust="spacing">Wavenumber / cm</tspan><tspan dx="2.6" dy="-3.2" font-size="8.6">−1</tspan></text>
<text x="375" y="526" class="ax2"><tspan textLength="84" lengthAdjust="spacingAndGlyphs">Wavenumber / cm</tspan><tspan dx="2" dy="-4.5" font-size="9.2">−1</tspan></text>
<text transform="translate(15.4 406.7) rotate(-90)" class="yl" text-anchor="middle" textLength="64" lengthAdjust="spacing">Intensity / a.u.</text>
<text transform="translate(293.4 409.9) rotate(-90)" class="yl" text-anchor="middle" textLength="66" lengthAdjust="spacing">Intensity / a.u.</text>
</svg></body></html>
